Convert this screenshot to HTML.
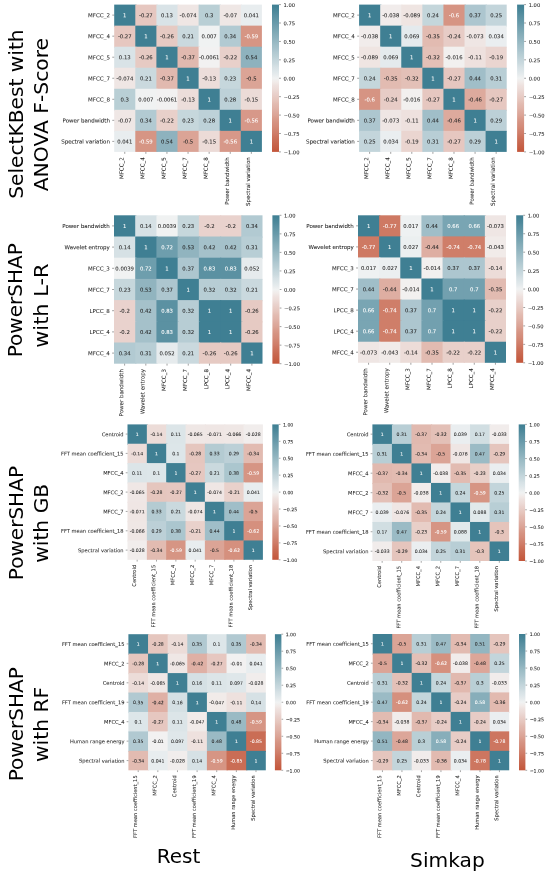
<!DOCTYPE html>
<html lang="en"><head><meta charset="utf-8"><title>Correlation heatmaps</title>
<style>
html,body{margin:0;padding:0;background:#fff;}
body{width:550px;height:881px;overflow:hidden;}
svg{display:block;font-family:"DejaVu Sans","Liberation Sans",sans-serif;}
svg text{white-space:pre;}
</style></head><body>
<svg width="550" height="881" viewBox="0 0 550 881">
<defs><linearGradient id="cb" x1="0" y1="0" x2="0" y2="1"><stop offset="0.0000" stop-color="#3f7f93"/><stop offset="0.0250" stop-color="#468497"/><stop offset="0.0500" stop-color="#4e899b"/><stop offset="0.0750" stop-color="#588fa1"/><stop offset="0.1000" stop-color="#6095a5"/><stop offset="0.1250" stop-color="#689aaa"/><stop offset="0.1500" stop-color="#72a0af"/><stop offset="0.1750" stop-color="#7aa6b3"/><stop offset="0.2000" stop-color="#84acb8"/><stop offset="0.2250" stop-color="#8cb1bd"/><stop offset="0.2500" stop-color="#96b8c2"/><stop offset="0.2750" stop-color="#9fbec7"/><stop offset="0.3000" stop-color="#a7c3cc"/><stop offset="0.3250" stop-color="#b1c9d1"/><stop offset="0.3500" stop-color="#b9cfd5"/><stop offset="0.3750" stop-color="#c3d5db"/><stop offset="0.4000" stop-color="#cbdadf"/><stop offset="0.4250" stop-color="#d6e1e5"/><stop offset="0.4500" stop-color="#dde6e9"/><stop offset="0.4750" stop-color="#e6ebed"/><stop offset="0.5000" stop-color="#f0f2f2"/><stop offset="0.5250" stop-color="#f1ebe9"/><stop offset="0.5500" stop-color="#eee1de"/><stop offset="0.5750" stop-color="#ecdbd7"/><stop offset="0.6000" stop-color="#e9d2cd"/><stop offset="0.6250" stop-color="#e7cbc4"/><stop offset="0.6500" stop-color="#e5c4bb"/><stop offset="0.6750" stop-color="#e2bab0"/><stop offset="0.7000" stop-color="#e0b4a9"/><stop offset="0.7250" stop-color="#ddab9f"/><stop offset="0.7500" stop-color="#dba496"/><stop offset="0.7750" stop-color="#d89a8a"/><stop offset="0.8000" stop-color="#d59281"/><stop offset="0.8250" stop-color="#d48c7a"/><stop offset="0.8500" stop-color="#d18470"/><stop offset="0.8750" stop-color="#cf7c68"/><stop offset="0.9000" stop-color="#cc735c"/><stop offset="0.9250" stop-color="#c96b53"/><stop offset="0.9500" stop-color="#c7644b"/><stop offset="0.9750" stop-color="#c55d42"/><stop offset="1.0000" stop-color="#c3553a"/></linearGradient></defs>
<rect x="0" y="0" width="550" height="881" fill="#ffffff"/>
<g class="p" font-size="5.500">
<g>
<rect x="114.20" y="4.60" width="22.30" height="22.24" fill="#3f7f93"/>
<rect x="135.30" y="4.60" width="22.30" height="22.24" fill="#e6c7c0"/>
<rect x="156.40" y="4.60" width="22.30" height="22.24" fill="#d9e3e7"/>
<rect x="177.50" y="4.60" width="22.30" height="22.24" fill="#efe6e4"/>
<rect x="198.60" y="4.60" width="22.30" height="22.24" fill="#b9cfd5"/>
<rect x="219.70" y="4.60" width="22.30" height="22.24" fill="#efe7e5"/>
<rect x="240.80" y="4.60" width="21.10" height="22.24" fill="#e8edef"/>
<rect x="114.20" y="25.64" width="22.30" height="22.24" fill="#e6c7c0"/>
<rect x="135.30" y="25.64" width="22.30" height="22.24" fill="#3f7f93"/>
<rect x="156.40" y="25.64" width="22.30" height="22.24" fill="#e6cac3"/>
<rect x="177.50" y="25.64" width="22.30" height="22.24" fill="#cad9de"/>
<rect x="198.60" y="25.64" width="22.30" height="22.24" fill="#f0f2f2"/>
<rect x="219.70" y="25.64" width="22.30" height="22.24" fill="#b2cad2"/>
<rect x="240.80" y="25.64" width="21.10" height="22.24" fill="#d69584"/>
<rect x="114.20" y="46.69" width="22.30" height="22.24" fill="#d9e3e7"/>
<rect x="135.30" y="46.69" width="22.30" height="22.24" fill="#e6cac3"/>
<rect x="156.40" y="46.69" width="22.30" height="22.24" fill="#3f7f93"/>
<rect x="177.50" y="46.69" width="22.30" height="22.24" fill="#e1b9af"/>
<rect x="198.60" y="46.69" width="22.30" height="22.24" fill="#f2f1f1"/>
<rect x="219.70" y="46.69" width="22.30" height="22.24" fill="#e8d0ca"/>
<rect x="240.80" y="46.69" width="21.10" height="22.24" fill="#8eb2be"/>
<rect x="114.20" y="67.73" width="22.30" height="22.24" fill="#efe6e4"/>
<rect x="135.30" y="67.73" width="22.30" height="22.24" fill="#cad9de"/>
<rect x="156.40" y="67.73" width="22.30" height="22.24" fill="#e1b9af"/>
<rect x="177.50" y="67.73" width="22.30" height="22.24" fill="#3f7f93"/>
<rect x="198.60" y="67.73" width="22.30" height="22.24" fill="#ecddda"/>
<rect x="219.70" y="67.73" width="22.30" height="22.24" fill="#c6d7dc"/>
<rect x="240.80" y="67.73" width="21.10" height="22.24" fill="#dba496"/>
<rect x="114.20" y="88.77" width="22.30" height="22.24" fill="#b9cfd5"/>
<rect x="135.30" y="88.77" width="22.30" height="22.24" fill="#f0f2f2"/>
<rect x="156.40" y="88.77" width="22.30" height="22.24" fill="#f2f1f1"/>
<rect x="177.50" y="88.77" width="22.30" height="22.24" fill="#ecddda"/>
<rect x="198.60" y="88.77" width="22.30" height="22.24" fill="#3f7f93"/>
<rect x="219.70" y="88.77" width="22.30" height="22.24" fill="#bdd1d8"/>
<rect x="240.80" y="88.77" width="21.10" height="22.24" fill="#ecdbd7"/>
<rect x="114.20" y="109.81" width="22.30" height="22.24" fill="#efe7e5"/>
<rect x="135.30" y="109.81" width="22.30" height="22.24" fill="#b2cad2"/>
<rect x="156.40" y="109.81" width="22.30" height="22.24" fill="#e8d0ca"/>
<rect x="177.50" y="109.81" width="22.30" height="22.24" fill="#c6d7dc"/>
<rect x="198.60" y="109.81" width="22.30" height="22.24" fill="#bdd1d8"/>
<rect x="219.70" y="109.81" width="22.30" height="22.24" fill="#3f7f93"/>
<rect x="240.80" y="109.81" width="21.10" height="22.24" fill="#d79889"/>
<rect x="114.20" y="130.86" width="22.30" height="21.04" fill="#e8edef"/>
<rect x="135.30" y="130.86" width="22.30" height="21.04" fill="#d69584"/>
<rect x="156.40" y="130.86" width="22.30" height="21.04" fill="#8eb2be"/>
<rect x="177.50" y="130.86" width="22.30" height="21.04" fill="#dba496"/>
<rect x="198.60" y="130.86" width="22.30" height="21.04" fill="#ecdbd7"/>
<rect x="219.70" y="130.86" width="22.30" height="21.04" fill="#d79889"/>
<rect x="240.80" y="130.86" width="21.10" height="21.04" fill="#3f7f93"/>
</g>
<g text-anchor="middle" font-size="5.300" stroke-width="0.06">
<text transform="translate(124.75 17.26) rotate(0.06)" fill="#ffffff" stroke="#ffffff">1</text>
<text transform="translate(145.85 17.26) rotate(0.06)" fill="#262626" stroke="#262626">-0.27</text>
<text transform="translate(166.95 17.26) rotate(0.06)" fill="#262626" stroke="#262626">0.13</text>
<text transform="translate(188.05 17.26) rotate(0.06)" fill="#262626" stroke="#262626">-0.074</text>
<text transform="translate(209.15 17.26) rotate(0.06)" fill="#262626" stroke="#262626">0.3</text>
<text transform="translate(230.25 17.26) rotate(0.06)" fill="#262626" stroke="#262626">-0.07</text>
<text transform="translate(251.35 17.26) rotate(0.06)" fill="#262626" stroke="#262626">0.041</text>
<text transform="translate(124.75 38.30) rotate(0.06)" fill="#262626" stroke="#262626">-0.27</text>
<text transform="translate(145.85 38.30) rotate(0.06)" fill="#ffffff" stroke="#ffffff">1</text>
<text transform="translate(166.95 38.30) rotate(0.06)" fill="#262626" stroke="#262626">-0.26</text>
<text transform="translate(188.05 38.30) rotate(0.06)" fill="#262626" stroke="#262626">0.21</text>
<text transform="translate(209.15 38.30) rotate(0.06)" fill="#262626" stroke="#262626">0.007</text>
<text transform="translate(230.25 38.30) rotate(0.06)" fill="#262626" stroke="#262626">0.34</text>
<text transform="translate(251.35 38.30) rotate(0.06)" fill="#ffffff" stroke="#ffffff">-0.59</text>
<text transform="translate(124.75 59.34) rotate(0.06)" fill="#262626" stroke="#262626">0.13</text>
<text transform="translate(145.85 59.34) rotate(0.06)" fill="#262626" stroke="#262626">-0.26</text>
<text transform="translate(166.95 59.34) rotate(0.06)" fill="#ffffff" stroke="#ffffff">1</text>
<text transform="translate(188.05 59.34) rotate(0.06)" fill="#262626" stroke="#262626">-0.37</text>
<text transform="translate(209.15 59.34) rotate(0.06)" fill="#262626" stroke="#262626">-0.0061</text>
<text transform="translate(230.25 59.34) rotate(0.06)" fill="#262626" stroke="#262626">-0.22</text>
<text transform="translate(251.35 59.34) rotate(0.06)" fill="#262626" stroke="#262626">0.54</text>
<text transform="translate(124.75 80.38) rotate(0.06)" fill="#262626" stroke="#262626">-0.074</text>
<text transform="translate(145.85 80.38) rotate(0.06)" fill="#262626" stroke="#262626">0.21</text>
<text transform="translate(166.95 80.38) rotate(0.06)" fill="#262626" stroke="#262626">-0.37</text>
<text transform="translate(188.05 80.38) rotate(0.06)" fill="#ffffff" stroke="#ffffff">1</text>
<text transform="translate(209.15 80.38) rotate(0.06)" fill="#262626" stroke="#262626">-0.13</text>
<text transform="translate(230.25 80.38) rotate(0.06)" fill="#262626" stroke="#262626">0.23</text>
<text transform="translate(251.35 80.38) rotate(0.06)" fill="#262626" stroke="#262626">-0.5</text>
<text transform="translate(124.75 101.43) rotate(0.06)" fill="#262626" stroke="#262626">0.3</text>
<text transform="translate(145.85 101.43) rotate(0.06)" fill="#262626" stroke="#262626">0.007</text>
<text transform="translate(166.95 101.43) rotate(0.06)" fill="#262626" stroke="#262626">-0.0061</text>
<text transform="translate(188.05 101.43) rotate(0.06)" fill="#262626" stroke="#262626">-0.13</text>
<text transform="translate(209.15 101.43) rotate(0.06)" fill="#ffffff" stroke="#ffffff">1</text>
<text transform="translate(230.25 101.43) rotate(0.06)" fill="#262626" stroke="#262626">0.28</text>
<text transform="translate(251.35 101.43) rotate(0.06)" fill="#262626" stroke="#262626">-0.15</text>
<text transform="translate(124.75 122.47) rotate(0.06)" fill="#262626" stroke="#262626">-0.07</text>
<text transform="translate(145.85 122.47) rotate(0.06)" fill="#262626" stroke="#262626">0.34</text>
<text transform="translate(166.95 122.47) rotate(0.06)" fill="#262626" stroke="#262626">-0.22</text>
<text transform="translate(188.05 122.47) rotate(0.06)" fill="#262626" stroke="#262626">0.23</text>
<text transform="translate(209.15 122.47) rotate(0.06)" fill="#262626" stroke="#262626">0.28</text>
<text transform="translate(230.25 122.47) rotate(0.06)" fill="#ffffff" stroke="#ffffff">1</text>
<text transform="translate(251.35 122.47) rotate(0.06)" fill="#ffffff" stroke="#ffffff">-0.56</text>
<text transform="translate(124.75 143.51) rotate(0.06)" fill="#262626" stroke="#262626">0.041</text>
<text transform="translate(145.85 143.51) rotate(0.06)" fill="#ffffff" stroke="#ffffff">-0.59</text>
<text transform="translate(166.95 143.51) rotate(0.06)" fill="#262626" stroke="#262626">0.54</text>
<text transform="translate(188.05 143.51) rotate(0.06)" fill="#262626" stroke="#262626">-0.5</text>
<text transform="translate(209.15 143.51) rotate(0.06)" fill="#262626" stroke="#262626">-0.15</text>
<text transform="translate(230.25 143.51) rotate(0.06)" fill="#ffffff" stroke="#ffffff">-0.56</text>
<text transform="translate(251.35 143.51) rotate(0.06)" fill="#ffffff" stroke="#ffffff">1</text>
</g>
<g stroke="#262626" stroke-width="0.440">
<line x1="112.28" y1="15.12" x2="114.20" y2="15.12"/>
<line x1="124.75" y1="151.90" x2="124.75" y2="153.83"/>
<line x1="112.28" y1="36.16" x2="114.20" y2="36.16"/>
<line x1="145.85" y1="151.90" x2="145.85" y2="153.83"/>
<line x1="112.28" y1="57.21" x2="114.20" y2="57.21"/>
<line x1="166.95" y1="151.90" x2="166.95" y2="153.83"/>
<line x1="112.28" y1="78.25" x2="114.20" y2="78.25"/>
<line x1="188.05" y1="151.90" x2="188.05" y2="153.83"/>
<line x1="112.28" y1="99.29" x2="114.20" y2="99.29"/>
<line x1="209.15" y1="151.90" x2="209.15" y2="153.83"/>
<line x1="112.28" y1="120.34" x2="114.20" y2="120.34"/>
<line x1="230.25" y1="151.90" x2="230.25" y2="153.83"/>
<line x1="112.28" y1="141.38" x2="114.20" y2="141.38"/>
<line x1="251.35" y1="151.90" x2="251.35" y2="153.83"/>
<line x1="279.00" y1="4.60" x2="280.93" y2="4.60"/>
<line x1="279.00" y1="23.01" x2="280.93" y2="23.01"/>
<line x1="279.00" y1="41.43" x2="280.93" y2="41.43"/>
<line x1="279.00" y1="59.84" x2="280.93" y2="59.84"/>
<line x1="279.00" y1="78.25" x2="280.93" y2="78.25"/>
<line x1="279.00" y1="96.66" x2="280.93" y2="96.66"/>
<line x1="279.00" y1="115.08" x2="280.93" y2="115.08"/>
<line x1="279.00" y1="133.49" x2="280.93" y2="133.49"/>
<line x1="279.00" y1="151.90" x2="280.93" y2="151.90"/>
</g>
<g fill="#262626" stroke="#262626" stroke-width="0.06" text-anchor="end">
<text transform="translate(109.95 17.33) rotate(0.06)">MFCC_2</text>
<text transform="translate(109.95 38.37) rotate(0.06)">MFCC_4</text>
<text transform="translate(109.95 59.41) rotate(0.06)">MFCC_5</text>
<text transform="translate(109.95 80.46) rotate(0.06)">MFCC_7</text>
<text transform="translate(109.95 101.50) rotate(0.06)">MFCC_8</text>
<text transform="translate(109.95 122.54) rotate(0.06)">Power bandwidth</text>
<text transform="translate(109.95 143.59) rotate(0.06)">Spectral variation</text>
</g>
<g fill="#262626" stroke="#262626" stroke-width="0.06" text-anchor="end">
<text transform="translate(123.45 157.25) rotate(-89.94)">MFCC_2</text>
<text transform="translate(144.55 157.25) rotate(-89.94)">MFCC_4</text>
<text transform="translate(165.65 157.25) rotate(-89.94)">MFCC_5</text>
<text transform="translate(186.75 157.25) rotate(-89.94)">MFCC_7</text>
<text transform="translate(207.85 157.25) rotate(-89.94)">MFCC_8</text>
<text transform="translate(228.95 157.25) rotate(-89.94)">Power bandwidth</text>
<text transform="translate(250.05 157.25) rotate(-89.94)">Spectral variation</text>
</g>
<rect x="272.00" y="4.60" width="7.00" height="147.30" fill="url(#cb)"/>
<g fill="#262626" stroke="#262626" stroke-width="0.06" font-size="5.200">
<text transform="translate(283.55 6.90) rotate(0.06)">1.00</text>
<text transform="translate(283.55 25.31) rotate(0.06)">0.75</text>
<text transform="translate(283.55 43.72) rotate(0.06)">0.50</text>
<text transform="translate(283.55 62.14) rotate(0.06)">0.25</text>
<text transform="translate(283.55 80.55) rotate(0.06)">0.00</text>
<text transform="translate(283.55 98.96) rotate(0.06)">−0.25</text>
<text transform="translate(283.55 117.37) rotate(0.06)">−0.50</text>
<text transform="translate(283.55 135.79) rotate(0.06)">−0.75</text>
<text transform="translate(283.55 154.20) rotate(0.06)">−1.00</text>
</g>
</g>
<g class="p" font-size="5.500">
<g>
<rect x="359.10" y="4.60" width="22.29" height="22.24" fill="#3f7f93"/>
<rect x="380.19" y="4.60" width="22.29" height="22.24" fill="#f1eceb"/>
<rect x="401.27" y="4.60" width="22.29" height="22.24" fill="#efe5e2"/>
<rect x="422.36" y="4.60" width="22.29" height="22.24" fill="#c4d6db"/>
<rect x="443.44" y="4.60" width="22.29" height="22.24" fill="#d69483"/>
<rect x="464.53" y="4.60" width="22.29" height="22.24" fill="#adc6cf"/>
<rect x="485.61" y="4.60" width="21.09" height="22.24" fill="#c3d5db"/>
<rect x="359.10" y="25.64" width="22.29" height="22.24" fill="#f1eceb"/>
<rect x="380.19" y="25.64" width="22.29" height="22.24" fill="#3f7f93"/>
<rect x="401.27" y="25.64" width="22.29" height="22.24" fill="#e4eaed"/>
<rect x="422.36" y="25.64" width="22.29" height="22.24" fill="#e2bbb1"/>
<rect x="443.44" y="25.64" width="22.29" height="22.24" fill="#e7ccc6"/>
<rect x="464.53" y="25.64" width="22.29" height="22.24" fill="#efe6e4"/>
<rect x="485.61" y="25.64" width="21.09" height="22.24" fill="#eaeef0"/>
<rect x="359.10" y="46.69" width="22.29" height="22.24" fill="#efe5e2"/>
<rect x="380.19" y="46.69" width="22.29" height="22.24" fill="#e4eaed"/>
<rect x="401.27" y="46.69" width="22.29" height="22.24" fill="#3f7f93"/>
<rect x="422.36" y="46.69" width="22.29" height="22.24" fill="#e3c0b7"/>
<rect x="443.44" y="46.69" width="22.29" height="22.24" fill="#f2f0ef"/>
<rect x="464.53" y="46.69" width="22.29" height="22.24" fill="#eee1de"/>
<rect x="485.61" y="46.69" width="21.09" height="22.24" fill="#ead5d0"/>
<rect x="359.10" y="67.73" width="22.29" height="22.24" fill="#c4d6db"/>
<rect x="380.19" y="67.73" width="22.29" height="22.24" fill="#e2bbb1"/>
<rect x="401.27" y="67.73" width="22.29" height="22.24" fill="#e3c0b7"/>
<rect x="422.36" y="67.73" width="22.29" height="22.24" fill="#3f7f93"/>
<rect x="443.44" y="67.73" width="22.29" height="22.24" fill="#e6c7c0"/>
<rect x="464.53" y="67.73" width="22.29" height="22.24" fill="#a0bec8"/>
<rect x="485.61" y="67.73" width="21.09" height="22.24" fill="#b8ced5"/>
<rect x="359.10" y="88.77" width="22.29" height="22.24" fill="#d69483"/>
<rect x="380.19" y="88.77" width="22.29" height="22.24" fill="#e7ccc6"/>
<rect x="401.27" y="88.77" width="22.29" height="22.24" fill="#f2f0ef"/>
<rect x="422.36" y="88.77" width="22.29" height="22.24" fill="#e6c7c0"/>
<rect x="443.44" y="88.77" width="22.29" height="22.24" fill="#3f7f93"/>
<rect x="464.53" y="88.77" width="22.29" height="22.24" fill="#ddaa9d"/>
<rect x="485.61" y="88.77" width="21.09" height="22.24" fill="#e6c7c0"/>
<rect x="359.10" y="109.81" width="22.29" height="22.24" fill="#adc6cf"/>
<rect x="380.19" y="109.81" width="22.29" height="22.24" fill="#efe6e4"/>
<rect x="401.27" y="109.81" width="22.29" height="22.24" fill="#eee1de"/>
<rect x="422.36" y="109.81" width="22.29" height="22.24" fill="#a0bec8"/>
<rect x="443.44" y="109.81" width="22.29" height="22.24" fill="#ddaa9d"/>
<rect x="464.53" y="109.81" width="22.29" height="22.24" fill="#3f7f93"/>
<rect x="485.61" y="109.81" width="21.09" height="22.24" fill="#bcd0d7"/>
<rect x="359.10" y="130.86" width="22.29" height="21.04" fill="#c3d5db"/>
<rect x="380.19" y="130.86" width="22.29" height="21.04" fill="#eaeef0"/>
<rect x="401.27" y="130.86" width="22.29" height="21.04" fill="#ead5d0"/>
<rect x="422.36" y="130.86" width="22.29" height="21.04" fill="#b8ced5"/>
<rect x="443.44" y="130.86" width="22.29" height="21.04" fill="#e6c7c0"/>
<rect x="464.53" y="130.86" width="22.29" height="21.04" fill="#bcd0d7"/>
<rect x="485.61" y="130.86" width="21.09" height="21.04" fill="#3f7f93"/>
</g>
<g text-anchor="middle" font-size="5.300" stroke-width="0.06">
<text transform="translate(369.64 17.26) rotate(0.06)" fill="#ffffff" stroke="#ffffff">1</text>
<text transform="translate(390.73 17.26) rotate(0.06)" fill="#262626" stroke="#262626">-0.038</text>
<text transform="translate(411.81 17.26) rotate(0.06)" fill="#262626" stroke="#262626">-0.089</text>
<text transform="translate(432.90 17.26) rotate(0.06)" fill="#262626" stroke="#262626">0.24</text>
<text transform="translate(453.99 17.26) rotate(0.06)" fill="#ffffff" stroke="#ffffff">-0.6</text>
<text transform="translate(475.07 17.26) rotate(0.06)" fill="#262626" stroke="#262626">0.37</text>
<text transform="translate(496.16 17.26) rotate(0.06)" fill="#262626" stroke="#262626">0.25</text>
<text transform="translate(369.64 38.30) rotate(0.06)" fill="#262626" stroke="#262626">-0.038</text>
<text transform="translate(390.73 38.30) rotate(0.06)" fill="#ffffff" stroke="#ffffff">1</text>
<text transform="translate(411.81 38.30) rotate(0.06)" fill="#262626" stroke="#262626">0.069</text>
<text transform="translate(432.90 38.30) rotate(0.06)" fill="#262626" stroke="#262626">-0.35</text>
<text transform="translate(453.99 38.30) rotate(0.06)" fill="#262626" stroke="#262626">-0.24</text>
<text transform="translate(475.07 38.30) rotate(0.06)" fill="#262626" stroke="#262626">-0.073</text>
<text transform="translate(496.16 38.30) rotate(0.06)" fill="#262626" stroke="#262626">0.034</text>
<text transform="translate(369.64 59.34) rotate(0.06)" fill="#262626" stroke="#262626">-0.089</text>
<text transform="translate(390.73 59.34) rotate(0.06)" fill="#262626" stroke="#262626">0.069</text>
<text transform="translate(411.81 59.34) rotate(0.06)" fill="#ffffff" stroke="#ffffff">1</text>
<text transform="translate(432.90 59.34) rotate(0.06)" fill="#262626" stroke="#262626">-0.32</text>
<text transform="translate(453.99 59.34) rotate(0.06)" fill="#262626" stroke="#262626">-0.016</text>
<text transform="translate(475.07 59.34) rotate(0.06)" fill="#262626" stroke="#262626">-0.11</text>
<text transform="translate(496.16 59.34) rotate(0.06)" fill="#262626" stroke="#262626">-0.19</text>
<text transform="translate(369.64 80.38) rotate(0.06)" fill="#262626" stroke="#262626">0.24</text>
<text transform="translate(390.73 80.38) rotate(0.06)" fill="#262626" stroke="#262626">-0.35</text>
<text transform="translate(411.81 80.38) rotate(0.06)" fill="#262626" stroke="#262626">-0.32</text>
<text transform="translate(432.90 80.38) rotate(0.06)" fill="#ffffff" stroke="#ffffff">1</text>
<text transform="translate(453.99 80.38) rotate(0.06)" fill="#262626" stroke="#262626">-0.27</text>
<text transform="translate(475.07 80.38) rotate(0.06)" fill="#262626" stroke="#262626">0.44</text>
<text transform="translate(496.16 80.38) rotate(0.06)" fill="#262626" stroke="#262626">0.31</text>
<text transform="translate(369.64 101.43) rotate(0.06)" fill="#ffffff" stroke="#ffffff">-0.6</text>
<text transform="translate(390.73 101.43) rotate(0.06)" fill="#262626" stroke="#262626">-0.24</text>
<text transform="translate(411.81 101.43) rotate(0.06)" fill="#262626" stroke="#262626">-0.016</text>
<text transform="translate(432.90 101.43) rotate(0.06)" fill="#262626" stroke="#262626">-0.27</text>
<text transform="translate(453.99 101.43) rotate(0.06)" fill="#ffffff" stroke="#ffffff">1</text>
<text transform="translate(475.07 101.43) rotate(0.06)" fill="#262626" stroke="#262626">-0.46</text>
<text transform="translate(496.16 101.43) rotate(0.06)" fill="#262626" stroke="#262626">-0.27</text>
<text transform="translate(369.64 122.47) rotate(0.06)" fill="#262626" stroke="#262626">0.37</text>
<text transform="translate(390.73 122.47) rotate(0.06)" fill="#262626" stroke="#262626">-0.073</text>
<text transform="translate(411.81 122.47) rotate(0.06)" fill="#262626" stroke="#262626">-0.11</text>
<text transform="translate(432.90 122.47) rotate(0.06)" fill="#262626" stroke="#262626">0.44</text>
<text transform="translate(453.99 122.47) rotate(0.06)" fill="#262626" stroke="#262626">-0.46</text>
<text transform="translate(475.07 122.47) rotate(0.06)" fill="#ffffff" stroke="#ffffff">1</text>
<text transform="translate(496.16 122.47) rotate(0.06)" fill="#262626" stroke="#262626">0.29</text>
<text transform="translate(369.64 143.51) rotate(0.06)" fill="#262626" stroke="#262626">0.25</text>
<text transform="translate(390.73 143.51) rotate(0.06)" fill="#262626" stroke="#262626">0.034</text>
<text transform="translate(411.81 143.51) rotate(0.06)" fill="#262626" stroke="#262626">-0.19</text>
<text transform="translate(432.90 143.51) rotate(0.06)" fill="#262626" stroke="#262626">0.31</text>
<text transform="translate(453.99 143.51) rotate(0.06)" fill="#262626" stroke="#262626">-0.27</text>
<text transform="translate(475.07 143.51) rotate(0.06)" fill="#262626" stroke="#262626">0.29</text>
<text transform="translate(496.16 143.51) rotate(0.06)" fill="#ffffff" stroke="#ffffff">1</text>
</g>
<g stroke="#262626" stroke-width="0.440">
<line x1="357.18" y1="15.12" x2="359.10" y2="15.12"/>
<line x1="369.64" y1="151.90" x2="369.64" y2="153.83"/>
<line x1="357.18" y1="36.16" x2="359.10" y2="36.16"/>
<line x1="390.73" y1="151.90" x2="390.73" y2="153.83"/>
<line x1="357.18" y1="57.21" x2="359.10" y2="57.21"/>
<line x1="411.81" y1="151.90" x2="411.81" y2="153.83"/>
<line x1="357.18" y1="78.25" x2="359.10" y2="78.25"/>
<line x1="432.90" y1="151.90" x2="432.90" y2="153.83"/>
<line x1="357.18" y1="99.29" x2="359.10" y2="99.29"/>
<line x1="453.99" y1="151.90" x2="453.99" y2="153.83"/>
<line x1="357.18" y1="120.34" x2="359.10" y2="120.34"/>
<line x1="475.07" y1="151.90" x2="475.07" y2="153.83"/>
<line x1="357.18" y1="141.38" x2="359.10" y2="141.38"/>
<line x1="496.16" y1="151.90" x2="496.16" y2="153.83"/>
<line x1="524.10" y1="4.60" x2="526.02" y2="4.60"/>
<line x1="524.10" y1="23.01" x2="526.02" y2="23.01"/>
<line x1="524.10" y1="41.43" x2="526.02" y2="41.43"/>
<line x1="524.10" y1="59.84" x2="526.02" y2="59.84"/>
<line x1="524.10" y1="78.25" x2="526.02" y2="78.25"/>
<line x1="524.10" y1="96.66" x2="526.02" y2="96.66"/>
<line x1="524.10" y1="115.08" x2="526.02" y2="115.08"/>
<line x1="524.10" y1="133.49" x2="526.02" y2="133.49"/>
<line x1="524.10" y1="151.90" x2="526.02" y2="151.90"/>
</g>
<g fill="#262626" stroke="#262626" stroke-width="0.06" text-anchor="end">
<text transform="translate(354.85 17.33) rotate(0.06)">MFCC_2</text>
<text transform="translate(354.85 38.37) rotate(0.06)">MFCC_4</text>
<text transform="translate(354.85 59.41) rotate(0.06)">MFCC_5</text>
<text transform="translate(354.85 80.46) rotate(0.06)">MFCC_7</text>
<text transform="translate(354.85 101.50) rotate(0.06)">MFCC_8</text>
<text transform="translate(354.85 122.54) rotate(0.06)">Power bandwidth</text>
<text transform="translate(354.85 143.59) rotate(0.06)">Spectral variation</text>
</g>
<g fill="#262626" stroke="#262626" stroke-width="0.06" text-anchor="end">
<text transform="translate(368.34 157.25) rotate(-89.94)">MFCC_2</text>
<text transform="translate(389.43 157.25) rotate(-89.94)">MFCC_4</text>
<text transform="translate(410.52 157.25) rotate(-89.94)">MFCC_5</text>
<text transform="translate(431.60 157.25) rotate(-89.94)">MFCC_7</text>
<text transform="translate(452.69 157.25) rotate(-89.94)">MFCC_8</text>
<text transform="translate(473.77 157.25) rotate(-89.94)">Power bandwidth</text>
<text transform="translate(494.86 157.25) rotate(-89.94)">Spectral variation</text>
</g>
<rect x="517.10" y="4.60" width="7.00" height="147.30" fill="url(#cb)"/>
<g fill="#262626" stroke="#262626" stroke-width="0.06" font-size="5.200">
<text transform="translate(528.65 6.90) rotate(0.06)">1.00</text>
<text transform="translate(528.65 25.31) rotate(0.06)">0.75</text>
<text transform="translate(528.65 43.72) rotate(0.06)">0.50</text>
<text transform="translate(528.65 62.14) rotate(0.06)">0.25</text>
<text transform="translate(528.65 80.55) rotate(0.06)">0.00</text>
<text transform="translate(528.65 98.96) rotate(0.06)">−0.25</text>
<text transform="translate(528.65 117.37) rotate(0.06)">−0.50</text>
<text transform="translate(528.65 135.79) rotate(0.06)">−0.75</text>
<text transform="translate(528.65 154.20) rotate(0.06)">−1.00</text>
</g>
</g>
<g class="p" font-size="5.500">
<g>
<rect x="114.00" y="215.30" width="22.41" height="22.40" fill="#3f7f93"/>
<rect x="135.21" y="215.30" width="22.41" height="22.40" fill="#d6e1e5"/>
<rect x="156.43" y="215.30" width="22.41" height="22.40" fill="#f0f2f2"/>
<rect x="177.64" y="215.30" width="22.41" height="22.40" fill="#c6d7dc"/>
<rect x="198.86" y="215.30" width="22.41" height="22.40" fill="#e9d2cd"/>
<rect x="220.07" y="215.30" width="22.41" height="22.40" fill="#e9d2cd"/>
<rect x="241.29" y="215.30" width="21.21" height="22.40" fill="#b2cad2"/>
<rect x="114.00" y="236.50" width="22.41" height="22.40" fill="#d6e1e5"/>
<rect x="135.21" y="236.50" width="22.41" height="22.40" fill="#3f7f93"/>
<rect x="156.43" y="236.50" width="22.41" height="22.40" fill="#6e9ead"/>
<rect x="177.64" y="236.50" width="22.41" height="22.40" fill="#91b4bf"/>
<rect x="198.86" y="236.50" width="22.41" height="22.40" fill="#a5c1ca"/>
<rect x="220.07" y="236.50" width="22.41" height="22.40" fill="#a5c1ca"/>
<rect x="241.29" y="236.50" width="21.21" height="22.40" fill="#b8ced5"/>
<rect x="114.00" y="257.70" width="22.41" height="22.40" fill="#f0f2f2"/>
<rect x="135.21" y="257.70" width="22.41" height="22.40" fill="#6e9ead"/>
<rect x="156.43" y="257.70" width="22.41" height="22.40" fill="#3f7f93"/>
<rect x="177.64" y="257.70" width="22.41" height="22.40" fill="#adc6cf"/>
<rect x="198.86" y="257.70" width="22.41" height="22.40" fill="#5b91a2"/>
<rect x="220.07" y="257.70" width="22.41" height="22.40" fill="#5b91a2"/>
<rect x="241.29" y="257.70" width="21.21" height="22.40" fill="#e6ebed"/>
<rect x="114.00" y="278.90" width="22.41" height="22.40" fill="#c6d7dc"/>
<rect x="135.21" y="278.90" width="22.41" height="22.40" fill="#91b4bf"/>
<rect x="156.43" y="278.90" width="22.41" height="22.40" fill="#adc6cf"/>
<rect x="177.64" y="278.90" width="22.41" height="22.40" fill="#3f7f93"/>
<rect x="198.86" y="278.90" width="22.41" height="22.40" fill="#b7cdd4"/>
<rect x="220.07" y="278.90" width="22.41" height="22.40" fill="#b7cdd4"/>
<rect x="241.29" y="278.90" width="21.21" height="22.40" fill="#cad9de"/>
<rect x="114.00" y="300.10" width="22.41" height="22.40" fill="#e9d2cd"/>
<rect x="135.21" y="300.10" width="22.41" height="22.40" fill="#a5c1ca"/>
<rect x="156.43" y="300.10" width="22.41" height="22.40" fill="#5b91a2"/>
<rect x="177.64" y="300.10" width="22.41" height="22.40" fill="#b7cdd4"/>
<rect x="198.86" y="300.10" width="22.41" height="22.40" fill="#3f7f93"/>
<rect x="220.07" y="300.10" width="22.41" height="22.40" fill="#3f7f93"/>
<rect x="241.29" y="300.10" width="21.21" height="22.40" fill="#e6cac3"/>
<rect x="114.00" y="321.30" width="22.41" height="22.40" fill="#e9d2cd"/>
<rect x="135.21" y="321.30" width="22.41" height="22.40" fill="#a5c1ca"/>
<rect x="156.43" y="321.30" width="22.41" height="22.40" fill="#5b91a2"/>
<rect x="177.64" y="321.30" width="22.41" height="22.40" fill="#b7cdd4"/>
<rect x="198.86" y="321.30" width="22.41" height="22.40" fill="#3f7f93"/>
<rect x="220.07" y="321.30" width="22.41" height="22.40" fill="#3f7f93"/>
<rect x="241.29" y="321.30" width="21.21" height="22.40" fill="#e6cac3"/>
<rect x="114.00" y="342.50" width="22.41" height="21.20" fill="#b2cad2"/>
<rect x="135.21" y="342.50" width="22.41" height="21.20" fill="#b8ced5"/>
<rect x="156.43" y="342.50" width="22.41" height="21.20" fill="#e6ebed"/>
<rect x="177.64" y="342.50" width="22.41" height="21.20" fill="#cad9de"/>
<rect x="198.86" y="342.50" width="22.41" height="21.20" fill="#e6cac3"/>
<rect x="220.07" y="342.50" width="22.41" height="21.20" fill="#e6cac3"/>
<rect x="241.29" y="342.50" width="21.21" height="21.20" fill="#3f7f93"/>
</g>
<g text-anchor="middle" font-size="5.300" stroke-width="0.06">
<text transform="translate(124.61 228.03) rotate(0.06)" fill="#ffffff" stroke="#ffffff">1</text>
<text transform="translate(145.82 228.03) rotate(0.06)" fill="#262626" stroke="#262626">0.14</text>
<text transform="translate(167.04 228.03) rotate(0.06)" fill="#262626" stroke="#262626">0.0039</text>
<text transform="translate(188.25 228.03) rotate(0.06)" fill="#262626" stroke="#262626">0.23</text>
<text transform="translate(209.46 228.03) rotate(0.06)" fill="#262626" stroke="#262626">-0.2</text>
<text transform="translate(230.68 228.03) rotate(0.06)" fill="#262626" stroke="#262626">-0.2</text>
<text transform="translate(251.89 228.03) rotate(0.06)" fill="#262626" stroke="#262626">0.34</text>
<text transform="translate(124.61 249.23) rotate(0.06)" fill="#262626" stroke="#262626">0.14</text>
<text transform="translate(145.82 249.23) rotate(0.06)" fill="#ffffff" stroke="#ffffff">1</text>
<text transform="translate(167.04 249.23) rotate(0.06)" fill="#ffffff" stroke="#ffffff">0.72</text>
<text transform="translate(188.25 249.23) rotate(0.06)" fill="#262626" stroke="#262626">0.53</text>
<text transform="translate(209.46 249.23) rotate(0.06)" fill="#262626" stroke="#262626">0.42</text>
<text transform="translate(230.68 249.23) rotate(0.06)" fill="#262626" stroke="#262626">0.42</text>
<text transform="translate(251.89 249.23) rotate(0.06)" fill="#262626" stroke="#262626">0.31</text>
<text transform="translate(124.61 270.43) rotate(0.06)" fill="#262626" stroke="#262626">0.0039</text>
<text transform="translate(145.82 270.43) rotate(0.06)" fill="#ffffff" stroke="#ffffff">0.72</text>
<text transform="translate(167.04 270.43) rotate(0.06)" fill="#ffffff" stroke="#ffffff">1</text>
<text transform="translate(188.25 270.43) rotate(0.06)" fill="#262626" stroke="#262626">0.37</text>
<text transform="translate(209.46 270.43) rotate(0.06)" fill="#ffffff" stroke="#ffffff">0.83</text>
<text transform="translate(230.68 270.43) rotate(0.06)" fill="#ffffff" stroke="#ffffff">0.83</text>
<text transform="translate(251.89 270.43) rotate(0.06)" fill="#262626" stroke="#262626">0.052</text>
<text transform="translate(124.61 291.63) rotate(0.06)" fill="#262626" stroke="#262626">0.23</text>
<text transform="translate(145.82 291.63) rotate(0.06)" fill="#262626" stroke="#262626">0.53</text>
<text transform="translate(167.04 291.63) rotate(0.06)" fill="#262626" stroke="#262626">0.37</text>
<text transform="translate(188.25 291.63) rotate(0.06)" fill="#ffffff" stroke="#ffffff">1</text>
<text transform="translate(209.46 291.63) rotate(0.06)" fill="#262626" stroke="#262626">0.32</text>
<text transform="translate(230.68 291.63) rotate(0.06)" fill="#262626" stroke="#262626">0.32</text>
<text transform="translate(251.89 291.63) rotate(0.06)" fill="#262626" stroke="#262626">0.21</text>
<text transform="translate(124.61 312.83) rotate(0.06)" fill="#262626" stroke="#262626">-0.2</text>
<text transform="translate(145.82 312.83) rotate(0.06)" fill="#262626" stroke="#262626">0.42</text>
<text transform="translate(167.04 312.83) rotate(0.06)" fill="#ffffff" stroke="#ffffff">0.83</text>
<text transform="translate(188.25 312.83) rotate(0.06)" fill="#262626" stroke="#262626">0.32</text>
<text transform="translate(209.46 312.83) rotate(0.06)" fill="#ffffff" stroke="#ffffff">1</text>
<text transform="translate(230.68 312.83) rotate(0.06)" fill="#ffffff" stroke="#ffffff">1</text>
<text transform="translate(251.89 312.83) rotate(0.06)" fill="#262626" stroke="#262626">-0.26</text>
<text transform="translate(124.61 334.03) rotate(0.06)" fill="#262626" stroke="#262626">-0.2</text>
<text transform="translate(145.82 334.03) rotate(0.06)" fill="#262626" stroke="#262626">0.42</text>
<text transform="translate(167.04 334.03) rotate(0.06)" fill="#ffffff" stroke="#ffffff">0.83</text>
<text transform="translate(188.25 334.03) rotate(0.06)" fill="#262626" stroke="#262626">0.32</text>
<text transform="translate(209.46 334.03) rotate(0.06)" fill="#ffffff" stroke="#ffffff">1</text>
<text transform="translate(230.68 334.03) rotate(0.06)" fill="#ffffff" stroke="#ffffff">1</text>
<text transform="translate(251.89 334.03) rotate(0.06)" fill="#262626" stroke="#262626">-0.26</text>
<text transform="translate(124.61 355.23) rotate(0.06)" fill="#262626" stroke="#262626">0.34</text>
<text transform="translate(145.82 355.23) rotate(0.06)" fill="#262626" stroke="#262626">0.31</text>
<text transform="translate(167.04 355.23) rotate(0.06)" fill="#262626" stroke="#262626">0.052</text>
<text transform="translate(188.25 355.23) rotate(0.06)" fill="#262626" stroke="#262626">0.21</text>
<text transform="translate(209.46 355.23) rotate(0.06)" fill="#262626" stroke="#262626">-0.26</text>
<text transform="translate(230.68 355.23) rotate(0.06)" fill="#262626" stroke="#262626">-0.26</text>
<text transform="translate(251.89 355.23) rotate(0.06)" fill="#ffffff" stroke="#ffffff">1</text>
</g>
<g stroke="#262626" stroke-width="0.440">
<line x1="112.08" y1="225.90" x2="114.00" y2="225.90"/>
<line x1="124.61" y1="363.70" x2="124.61" y2="365.62"/>
<line x1="112.08" y1="247.10" x2="114.00" y2="247.10"/>
<line x1="145.82" y1="363.70" x2="145.82" y2="365.62"/>
<line x1="112.08" y1="268.30" x2="114.00" y2="268.30"/>
<line x1="167.04" y1="363.70" x2="167.04" y2="365.62"/>
<line x1="112.08" y1="289.50" x2="114.00" y2="289.50"/>
<line x1="188.25" y1="363.70" x2="188.25" y2="365.62"/>
<line x1="112.08" y1="310.70" x2="114.00" y2="310.70"/>
<line x1="209.46" y1="363.70" x2="209.46" y2="365.62"/>
<line x1="112.08" y1="331.90" x2="114.00" y2="331.90"/>
<line x1="230.68" y1="363.70" x2="230.68" y2="365.62"/>
<line x1="112.08" y1="353.10" x2="114.00" y2="353.10"/>
<line x1="251.89" y1="363.70" x2="251.89" y2="365.62"/>
<line x1="279.50" y1="215.30" x2="281.43" y2="215.30"/>
<line x1="279.50" y1="233.85" x2="281.43" y2="233.85"/>
<line x1="279.50" y1="252.40" x2="281.43" y2="252.40"/>
<line x1="279.50" y1="270.95" x2="281.43" y2="270.95"/>
<line x1="279.50" y1="289.50" x2="281.43" y2="289.50"/>
<line x1="279.50" y1="308.05" x2="281.43" y2="308.05"/>
<line x1="279.50" y1="326.60" x2="281.43" y2="326.60"/>
<line x1="279.50" y1="345.15" x2="281.43" y2="345.15"/>
<line x1="279.50" y1="363.70" x2="281.43" y2="363.70"/>
</g>
<g fill="#262626" stroke="#262626" stroke-width="0.06" text-anchor="end">
<text transform="translate(109.75 228.11) rotate(0.06)">Power bandwidth</text>
<text transform="translate(109.75 249.31) rotate(0.06)">Wavelet entropy</text>
<text transform="translate(109.75 270.51) rotate(0.06)">MFCC_3</text>
<text transform="translate(109.75 291.71) rotate(0.06)">MFCC_7</text>
<text transform="translate(109.75 312.91) rotate(0.06)">LPCC_8</text>
<text transform="translate(109.75 334.11) rotate(0.06)">LPCC_4</text>
<text transform="translate(109.75 355.31) rotate(0.06)">MFCC_4</text>
</g>
<g fill="#262626" stroke="#262626" stroke-width="0.06" text-anchor="end">
<text transform="translate(123.31 369.05) rotate(-89.94)">Power bandwidth</text>
<text transform="translate(144.52 369.05) rotate(-89.94)">Wavelet entropy</text>
<text transform="translate(165.74 369.05) rotate(-89.94)">MFCC_3</text>
<text transform="translate(186.95 369.05) rotate(-89.94)">MFCC_7</text>
<text transform="translate(208.17 369.05) rotate(-89.94)">LPCC_8</text>
<text transform="translate(229.38 369.05) rotate(-89.94)">LPCC_4</text>
<text transform="translate(250.59 369.05) rotate(-89.94)">MFCC_4</text>
</g>
<rect x="272.40" y="215.30" width="7.10" height="148.40" fill="url(#cb)"/>
<g fill="#262626" stroke="#262626" stroke-width="0.06" font-size="5.200">
<text transform="translate(284.05 217.60) rotate(0.06)">1.00</text>
<text transform="translate(284.05 236.15) rotate(0.06)">0.75</text>
<text transform="translate(284.05 254.70) rotate(0.06)">0.50</text>
<text transform="translate(284.05 273.25) rotate(0.06)">0.25</text>
<text transform="translate(284.05 291.80) rotate(0.06)">0.00</text>
<text transform="translate(284.05 310.35) rotate(0.06)">−0.25</text>
<text transform="translate(284.05 328.90) rotate(0.06)">−0.50</text>
<text transform="translate(284.05 347.45) rotate(0.06)">−0.75</text>
<text transform="translate(284.05 366.00) rotate(0.06)">−1.00</text>
</g>
</g>
<g class="p" font-size="5.500">
<g>
<rect x="358.00" y="215.30" width="22.34" height="22.27" fill="#3f7f93"/>
<rect x="379.14" y="215.30" width="22.34" height="22.27" fill="#ce7963"/>
<rect x="400.29" y="215.30" width="22.34" height="22.27" fill="#eef1f2"/>
<rect x="421.43" y="215.30" width="22.34" height="22.27" fill="#a0bec8"/>
<rect x="442.57" y="215.30" width="22.34" height="22.27" fill="#79a5b3"/>
<rect x="463.71" y="215.30" width="22.34" height="22.27" fill="#79a5b3"/>
<rect x="484.86" y="215.30" width="21.14" height="22.27" fill="#efe6e4"/>
<rect x="358.00" y="236.37" width="22.34" height="22.27" fill="#ce7963"/>
<rect x="379.14" y="236.37" width="22.34" height="22.27" fill="#3f7f93"/>
<rect x="400.29" y="236.37" width="22.34" height="22.27" fill="#ebeff0"/>
<rect x="421.43" y="236.37" width="22.34" height="22.27" fill="#deaea2"/>
<rect x="442.57" y="236.37" width="22.34" height="22.27" fill="#cf7e69"/>
<rect x="463.71" y="236.37" width="22.34" height="22.27" fill="#cf7e69"/>
<rect x="484.86" y="236.37" width="21.14" height="22.27" fill="#f1ebe9"/>
<rect x="358.00" y="257.44" width="22.34" height="22.27" fill="#eef1f2"/>
<rect x="379.14" y="257.44" width="22.34" height="22.27" fill="#ebeff0"/>
<rect x="400.29" y="257.44" width="22.34" height="22.27" fill="#3f7f93"/>
<rect x="421.43" y="257.44" width="22.34" height="22.27" fill="#f2f0ef"/>
<rect x="442.57" y="257.44" width="22.34" height="22.27" fill="#adc6cf"/>
<rect x="463.71" y="257.44" width="22.34" height="22.27" fill="#adc6cf"/>
<rect x="484.86" y="257.44" width="21.14" height="22.27" fill="#ecdcd8"/>
<rect x="358.00" y="278.51" width="22.34" height="22.27" fill="#a0bec8"/>
<rect x="379.14" y="278.51" width="22.34" height="22.27" fill="#deaea2"/>
<rect x="400.29" y="278.51" width="22.34" height="22.27" fill="#f2f0ef"/>
<rect x="421.43" y="278.51" width="22.34" height="22.27" fill="#3f7f93"/>
<rect x="442.57" y="278.51" width="22.34" height="22.27" fill="#72a0af"/>
<rect x="463.71" y="278.51" width="22.34" height="22.27" fill="#72a0af"/>
<rect x="484.86" y="278.51" width="21.14" height="22.27" fill="#e2bbb1"/>
<rect x="358.00" y="299.59" width="22.34" height="22.27" fill="#79a5b3"/>
<rect x="379.14" y="299.59" width="22.34" height="22.27" fill="#cf7e69"/>
<rect x="400.29" y="299.59" width="22.34" height="22.27" fill="#adc6cf"/>
<rect x="421.43" y="299.59" width="22.34" height="22.27" fill="#72a0af"/>
<rect x="442.57" y="299.59" width="22.34" height="22.27" fill="#3f7f93"/>
<rect x="463.71" y="299.59" width="22.34" height="22.27" fill="#3f7f93"/>
<rect x="484.86" y="299.59" width="21.14" height="22.27" fill="#e8d0ca"/>
<rect x="358.00" y="320.66" width="22.34" height="22.27" fill="#79a5b3"/>
<rect x="379.14" y="320.66" width="22.34" height="22.27" fill="#cf7e69"/>
<rect x="400.29" y="320.66" width="22.34" height="22.27" fill="#adc6cf"/>
<rect x="421.43" y="320.66" width="22.34" height="22.27" fill="#72a0af"/>
<rect x="442.57" y="320.66" width="22.34" height="22.27" fill="#3f7f93"/>
<rect x="463.71" y="320.66" width="22.34" height="22.27" fill="#3f7f93"/>
<rect x="484.86" y="320.66" width="21.14" height="22.27" fill="#e8d0ca"/>
<rect x="358.00" y="341.73" width="22.34" height="21.07" fill="#efe6e4"/>
<rect x="379.14" y="341.73" width="22.34" height="21.07" fill="#f1ebe9"/>
<rect x="400.29" y="341.73" width="22.34" height="21.07" fill="#ecdcd8"/>
<rect x="421.43" y="341.73" width="22.34" height="21.07" fill="#e2bbb1"/>
<rect x="442.57" y="341.73" width="22.34" height="21.07" fill="#e8d0ca"/>
<rect x="463.71" y="341.73" width="22.34" height="21.07" fill="#e8d0ca"/>
<rect x="484.86" y="341.73" width="21.14" height="21.07" fill="#3f7f93"/>
</g>
<g text-anchor="middle" font-size="5.300" stroke-width="0.06">
<text transform="translate(368.57 227.97) rotate(0.06)" fill="#ffffff" stroke="#ffffff">1</text>
<text transform="translate(389.71 227.97) rotate(0.06)" fill="#ffffff" stroke="#ffffff">-0.77</text>
<text transform="translate(410.86 227.97) rotate(0.06)" fill="#262626" stroke="#262626">0.017</text>
<text transform="translate(432.00 227.97) rotate(0.06)" fill="#262626" stroke="#262626">0.44</text>
<text transform="translate(453.14 227.97) rotate(0.06)" fill="#ffffff" stroke="#ffffff">0.66</text>
<text transform="translate(474.29 227.97) rotate(0.06)" fill="#ffffff" stroke="#ffffff">0.66</text>
<text transform="translate(495.43 227.97) rotate(0.06)" fill="#262626" stroke="#262626">-0.073</text>
<text transform="translate(368.57 249.04) rotate(0.06)" fill="#ffffff" stroke="#ffffff">-0.77</text>
<text transform="translate(389.71 249.04) rotate(0.06)" fill="#ffffff" stroke="#ffffff">1</text>
<text transform="translate(410.86 249.04) rotate(0.06)" fill="#262626" stroke="#262626">0.027</text>
<text transform="translate(432.00 249.04) rotate(0.06)" fill="#262626" stroke="#262626">-0.44</text>
<text transform="translate(453.14 249.04) rotate(0.06)" fill="#ffffff" stroke="#ffffff">-0.74</text>
<text transform="translate(474.29 249.04) rotate(0.06)" fill="#ffffff" stroke="#ffffff">-0.74</text>
<text transform="translate(495.43 249.04) rotate(0.06)" fill="#262626" stroke="#262626">-0.043</text>
<text transform="translate(368.57 270.11) rotate(0.06)" fill="#262626" stroke="#262626">0.017</text>
<text transform="translate(389.71 270.11) rotate(0.06)" fill="#262626" stroke="#262626">0.027</text>
<text transform="translate(410.86 270.11) rotate(0.06)" fill="#ffffff" stroke="#ffffff">1</text>
<text transform="translate(432.00 270.11) rotate(0.06)" fill="#262626" stroke="#262626">-0.014</text>
<text transform="translate(453.14 270.11) rotate(0.06)" fill="#262626" stroke="#262626">0.37</text>
<text transform="translate(474.29 270.11) rotate(0.06)" fill="#262626" stroke="#262626">0.37</text>
<text transform="translate(495.43 270.11) rotate(0.06)" fill="#262626" stroke="#262626">-0.14</text>
<text transform="translate(368.57 291.18) rotate(0.06)" fill="#262626" stroke="#262626">0.44</text>
<text transform="translate(389.71 291.18) rotate(0.06)" fill="#262626" stroke="#262626">-0.44</text>
<text transform="translate(410.86 291.18) rotate(0.06)" fill="#262626" stroke="#262626">-0.014</text>
<text transform="translate(432.00 291.18) rotate(0.06)" fill="#ffffff" stroke="#ffffff">1</text>
<text transform="translate(453.14 291.18) rotate(0.06)" fill="#ffffff" stroke="#ffffff">0.7</text>
<text transform="translate(474.29 291.18) rotate(0.06)" fill="#ffffff" stroke="#ffffff">0.7</text>
<text transform="translate(495.43 291.18) rotate(0.06)" fill="#262626" stroke="#262626">-0.35</text>
<text transform="translate(368.57 312.26) rotate(0.06)" fill="#ffffff" stroke="#ffffff">0.66</text>
<text transform="translate(389.71 312.26) rotate(0.06)" fill="#ffffff" stroke="#ffffff">-0.74</text>
<text transform="translate(410.86 312.26) rotate(0.06)" fill="#262626" stroke="#262626">0.37</text>
<text transform="translate(432.00 312.26) rotate(0.06)" fill="#ffffff" stroke="#ffffff">0.7</text>
<text transform="translate(453.14 312.26) rotate(0.06)" fill="#ffffff" stroke="#ffffff">1</text>
<text transform="translate(474.29 312.26) rotate(0.06)" fill="#ffffff" stroke="#ffffff">1</text>
<text transform="translate(495.43 312.26) rotate(0.06)" fill="#262626" stroke="#262626">-0.22</text>
<text transform="translate(368.57 333.33) rotate(0.06)" fill="#ffffff" stroke="#ffffff">0.66</text>
<text transform="translate(389.71 333.33) rotate(0.06)" fill="#ffffff" stroke="#ffffff">-0.74</text>
<text transform="translate(410.86 333.33) rotate(0.06)" fill="#262626" stroke="#262626">0.37</text>
<text transform="translate(432.00 333.33) rotate(0.06)" fill="#ffffff" stroke="#ffffff">0.7</text>
<text transform="translate(453.14 333.33) rotate(0.06)" fill="#ffffff" stroke="#ffffff">1</text>
<text transform="translate(474.29 333.33) rotate(0.06)" fill="#ffffff" stroke="#ffffff">1</text>
<text transform="translate(495.43 333.33) rotate(0.06)" fill="#262626" stroke="#262626">-0.22</text>
<text transform="translate(368.57 354.40) rotate(0.06)" fill="#262626" stroke="#262626">-0.073</text>
<text transform="translate(389.71 354.40) rotate(0.06)" fill="#262626" stroke="#262626">-0.043</text>
<text transform="translate(410.86 354.40) rotate(0.06)" fill="#262626" stroke="#262626">-0.14</text>
<text transform="translate(432.00 354.40) rotate(0.06)" fill="#262626" stroke="#262626">-0.35</text>
<text transform="translate(453.14 354.40) rotate(0.06)" fill="#262626" stroke="#262626">-0.22</text>
<text transform="translate(474.29 354.40) rotate(0.06)" fill="#262626" stroke="#262626">-0.22</text>
<text transform="translate(495.43 354.40) rotate(0.06)" fill="#ffffff" stroke="#ffffff">1</text>
</g>
<g stroke="#262626" stroke-width="0.440">
<line x1="356.07" y1="225.84" x2="358.00" y2="225.84"/>
<line x1="368.57" y1="362.80" x2="368.57" y2="364.73"/>
<line x1="356.07" y1="246.91" x2="358.00" y2="246.91"/>
<line x1="389.71" y1="362.80" x2="389.71" y2="364.73"/>
<line x1="356.07" y1="267.98" x2="358.00" y2="267.98"/>
<line x1="410.86" y1="362.80" x2="410.86" y2="364.73"/>
<line x1="356.07" y1="289.05" x2="358.00" y2="289.05"/>
<line x1="432.00" y1="362.80" x2="432.00" y2="364.73"/>
<line x1="356.07" y1="310.12" x2="358.00" y2="310.12"/>
<line x1="453.14" y1="362.80" x2="453.14" y2="364.73"/>
<line x1="356.07" y1="331.19" x2="358.00" y2="331.19"/>
<line x1="474.29" y1="362.80" x2="474.29" y2="364.73"/>
<line x1="356.07" y1="352.26" x2="358.00" y2="352.26"/>
<line x1="495.43" y1="362.80" x2="495.43" y2="364.73"/>
<line x1="523.20" y1="215.30" x2="525.12" y2="215.30"/>
<line x1="523.20" y1="233.74" x2="525.12" y2="233.74"/>
<line x1="523.20" y1="252.18" x2="525.12" y2="252.18"/>
<line x1="523.20" y1="270.61" x2="525.12" y2="270.61"/>
<line x1="523.20" y1="289.05" x2="525.12" y2="289.05"/>
<line x1="523.20" y1="307.49" x2="525.12" y2="307.49"/>
<line x1="523.20" y1="325.93" x2="525.12" y2="325.93"/>
<line x1="523.20" y1="344.36" x2="525.12" y2="344.36"/>
<line x1="523.20" y1="362.80" x2="525.12" y2="362.80"/>
</g>
<g fill="#262626" stroke="#262626" stroke-width="0.06" text-anchor="end">
<text transform="translate(353.75 228.04) rotate(0.06)">Power bandwidth</text>
<text transform="translate(353.75 249.11) rotate(0.06)">Wavelet entropy</text>
<text transform="translate(353.75 270.19) rotate(0.06)">MFCC_3</text>
<text transform="translate(353.75 291.26) rotate(0.06)">MFCC_7</text>
<text transform="translate(353.75 312.33) rotate(0.06)">LPCC_8</text>
<text transform="translate(353.75 333.40) rotate(0.06)">LPCC_4</text>
<text transform="translate(353.75 354.47) rotate(0.06)">MFCC_4</text>
</g>
<g fill="#262626" stroke="#262626" stroke-width="0.06" text-anchor="end">
<text transform="translate(367.27 368.15) rotate(-89.94)">Power bandwidth</text>
<text transform="translate(388.42 368.15) rotate(-89.94)">Wavelet entropy</text>
<text transform="translate(409.56 368.15) rotate(-89.94)">MFCC_3</text>
<text transform="translate(430.70 368.15) rotate(-89.94)">MFCC_7</text>
<text transform="translate(451.84 368.15) rotate(-89.94)">LPCC_8</text>
<text transform="translate(472.99 368.15) rotate(-89.94)">LPCC_4</text>
<text transform="translate(494.13 368.15) rotate(-89.94)">MFCC_4</text>
</g>
<rect x="516.20" y="215.30" width="7.00" height="147.50" fill="url(#cb)"/>
<g fill="#262626" stroke="#262626" stroke-width="0.06" font-size="5.200">
<text transform="translate(527.75 217.60) rotate(0.06)">1.00</text>
<text transform="translate(527.75 236.04) rotate(0.06)">0.75</text>
<text transform="translate(527.75 254.47) rotate(0.06)">0.50</text>
<text transform="translate(527.75 272.91) rotate(0.06)">0.25</text>
<text transform="translate(527.75 291.35) rotate(0.06)">0.00</text>
<text transform="translate(527.75 309.79) rotate(0.06)">−0.25</text>
<text transform="translate(527.75 328.22) rotate(0.06)">−0.50</text>
<text transform="translate(527.75 346.66) rotate(0.06)">−0.75</text>
<text transform="translate(527.75 365.10) rotate(0.06)">−1.00</text>
</g>
</g>
<g class="p" font-size="5.140">
<g>
<rect x="127.50" y="424.40" width="20.54" height="20.54" fill="#3f7f93"/>
<rect x="146.84" y="424.40" width="20.54" height="20.54" fill="#ecdcd8"/>
<rect x="166.19" y="424.40" width="20.54" height="20.54" fill="#dce5e8"/>
<rect x="185.53" y="424.40" width="20.54" height="20.54" fill="#efe7e5"/>
<rect x="204.87" y="424.40" width="20.54" height="20.54" fill="#efe6e4"/>
<rect x="224.21" y="424.40" width="20.54" height="20.54" fill="#efe7e5"/>
<rect x="243.56" y="424.40" width="19.34" height="20.54" fill="#f1edec"/>
<rect x="127.50" y="443.74" width="20.54" height="20.54" fill="#ecdcd8"/>
<rect x="146.84" y="443.74" width="20.54" height="20.54" fill="#3f7f93"/>
<rect x="166.19" y="443.74" width="20.54" height="20.54" fill="#dde6e9"/>
<rect x="185.53" y="443.74" width="20.54" height="20.54" fill="#e5c6be"/>
<rect x="204.87" y="443.74" width="20.54" height="20.54" fill="#b4cbd2"/>
<rect x="224.21" y="443.74" width="20.54" height="20.54" fill="#bcd0d7"/>
<rect x="243.56" y="443.74" width="19.34" height="20.54" fill="#e2bbb1"/>
<rect x="127.50" y="463.09" width="20.54" height="20.54" fill="#dce5e8"/>
<rect x="146.84" y="463.09" width="20.54" height="20.54" fill="#dde6e9"/>
<rect x="166.19" y="463.09" width="20.54" height="20.54" fill="#3f7f93"/>
<rect x="185.53" y="463.09" width="20.54" height="20.54" fill="#e6c7c0"/>
<rect x="204.87" y="463.09" width="20.54" height="20.54" fill="#cad9de"/>
<rect x="224.21" y="463.09" width="20.54" height="20.54" fill="#abc6ce"/>
<rect x="243.56" y="463.09" width="19.34" height="20.54" fill="#d69584"/>
<rect x="127.50" y="482.43" width="20.54" height="20.54" fill="#efe7e5"/>
<rect x="146.84" y="482.43" width="20.54" height="20.54" fill="#e5c6be"/>
<rect x="166.19" y="482.43" width="20.54" height="20.54" fill="#e6c7c0"/>
<rect x="185.53" y="482.43" width="20.54" height="20.54" fill="#3f7f93"/>
<rect x="204.87" y="482.43" width="20.54" height="20.54" fill="#efe6e4"/>
<rect x="224.21" y="482.43" width="20.54" height="20.54" fill="#e9d1cb"/>
<rect x="243.56" y="482.43" width="19.34" height="20.54" fill="#e8edef"/>
<rect x="127.50" y="501.77" width="20.54" height="20.54" fill="#efe6e4"/>
<rect x="146.84" y="501.77" width="20.54" height="20.54" fill="#b4cbd2"/>
<rect x="166.19" y="501.77" width="20.54" height="20.54" fill="#cad9de"/>
<rect x="185.53" y="501.77" width="20.54" height="20.54" fill="#efe6e4"/>
<rect x="204.87" y="501.77" width="20.54" height="20.54" fill="#3f7f93"/>
<rect x="224.21" y="501.77" width="20.54" height="20.54" fill="#a0bec8"/>
<rect x="243.56" y="501.77" width="19.34" height="20.54" fill="#dba496"/>
<rect x="127.50" y="521.11" width="20.54" height="20.54" fill="#efe7e5"/>
<rect x="146.84" y="521.11" width="20.54" height="20.54" fill="#bcd0d7"/>
<rect x="166.19" y="521.11" width="20.54" height="20.54" fill="#abc6ce"/>
<rect x="185.53" y="521.11" width="20.54" height="20.54" fill="#e9d1cb"/>
<rect x="204.87" y="521.11" width="20.54" height="20.54" fill="#a0bec8"/>
<rect x="224.21" y="521.11" width="20.54" height="20.54" fill="#3f7f93"/>
<rect x="243.56" y="521.11" width="19.34" height="20.54" fill="#d5907e"/>
<rect x="127.50" y="540.46" width="20.54" height="19.34" fill="#f1edec"/>
<rect x="146.84" y="540.46" width="20.54" height="19.34" fill="#e2bbb1"/>
<rect x="166.19" y="540.46" width="20.54" height="19.34" fill="#d69584"/>
<rect x="185.53" y="540.46" width="20.54" height="19.34" fill="#e8edef"/>
<rect x="204.87" y="540.46" width="20.54" height="19.34" fill="#dba496"/>
<rect x="224.21" y="540.46" width="20.54" height="19.34" fill="#d5907e"/>
<rect x="243.56" y="540.46" width="19.34" height="19.34" fill="#3f7f93"/>
</g>
<g text-anchor="middle" font-size="4.600" stroke-width="0.06">
<text transform="translate(137.17 435.95) rotate(0.06)" fill="#ffffff" stroke="#ffffff">1</text>
<text transform="translate(156.51 435.95) rotate(0.06)" fill="#262626" stroke="#262626">-0.14</text>
<text transform="translate(175.86 435.95) rotate(0.06)" fill="#262626" stroke="#262626">0.11</text>
<text transform="translate(195.20 435.95) rotate(0.06)" fill="#262626" stroke="#262626">-0.065</text>
<text transform="translate(214.54 435.95) rotate(0.06)" fill="#262626" stroke="#262626">-0.071</text>
<text transform="translate(233.89 435.95) rotate(0.06)" fill="#262626" stroke="#262626">-0.066</text>
<text transform="translate(253.23 435.95) rotate(0.06)" fill="#262626" stroke="#262626">-0.028</text>
<text transform="translate(137.17 455.29) rotate(0.06)" fill="#262626" stroke="#262626">-0.14</text>
<text transform="translate(156.51 455.29) rotate(0.06)" fill="#ffffff" stroke="#ffffff">1</text>
<text transform="translate(175.86 455.29) rotate(0.06)" fill="#262626" stroke="#262626">0.1</text>
<text transform="translate(195.20 455.29) rotate(0.06)" fill="#262626" stroke="#262626">-0.28</text>
<text transform="translate(214.54 455.29) rotate(0.06)" fill="#262626" stroke="#262626">0.33</text>
<text transform="translate(233.89 455.29) rotate(0.06)" fill="#262626" stroke="#262626">0.29</text>
<text transform="translate(253.23 455.29) rotate(0.06)" fill="#262626" stroke="#262626">-0.34</text>
<text transform="translate(137.17 474.64) rotate(0.06)" fill="#262626" stroke="#262626">0.11</text>
<text transform="translate(156.51 474.64) rotate(0.06)" fill="#262626" stroke="#262626">0.1</text>
<text transform="translate(175.86 474.64) rotate(0.06)" fill="#ffffff" stroke="#ffffff">1</text>
<text transform="translate(195.20 474.64) rotate(0.06)" fill="#262626" stroke="#262626">-0.27</text>
<text transform="translate(214.54 474.64) rotate(0.06)" fill="#262626" stroke="#262626">0.21</text>
<text transform="translate(233.89 474.64) rotate(0.06)" fill="#262626" stroke="#262626">0.38</text>
<text transform="translate(253.23 474.64) rotate(0.06)" fill="#ffffff" stroke="#ffffff">-0.59</text>
<text transform="translate(137.17 493.98) rotate(0.06)" fill="#262626" stroke="#262626">-0.065</text>
<text transform="translate(156.51 493.98) rotate(0.06)" fill="#262626" stroke="#262626">-0.28</text>
<text transform="translate(175.86 493.98) rotate(0.06)" fill="#262626" stroke="#262626">-0.27</text>
<text transform="translate(195.20 493.98) rotate(0.06)" fill="#ffffff" stroke="#ffffff">1</text>
<text transform="translate(214.54 493.98) rotate(0.06)" fill="#262626" stroke="#262626">-0.074</text>
<text transform="translate(233.89 493.98) rotate(0.06)" fill="#262626" stroke="#262626">-0.21</text>
<text transform="translate(253.23 493.98) rotate(0.06)" fill="#262626" stroke="#262626">0.041</text>
<text transform="translate(137.17 513.32) rotate(0.06)" fill="#262626" stroke="#262626">-0.071</text>
<text transform="translate(156.51 513.32) rotate(0.06)" fill="#262626" stroke="#262626">0.33</text>
<text transform="translate(175.86 513.32) rotate(0.06)" fill="#262626" stroke="#262626">0.21</text>
<text transform="translate(195.20 513.32) rotate(0.06)" fill="#262626" stroke="#262626">-0.074</text>
<text transform="translate(214.54 513.32) rotate(0.06)" fill="#ffffff" stroke="#ffffff">1</text>
<text transform="translate(233.89 513.32) rotate(0.06)" fill="#262626" stroke="#262626">0.44</text>
<text transform="translate(253.23 513.32) rotate(0.06)" fill="#262626" stroke="#262626">-0.5</text>
<text transform="translate(137.17 532.66) rotate(0.06)" fill="#262626" stroke="#262626">-0.066</text>
<text transform="translate(156.51 532.66) rotate(0.06)" fill="#262626" stroke="#262626">0.29</text>
<text transform="translate(175.86 532.66) rotate(0.06)" fill="#262626" stroke="#262626">0.38</text>
<text transform="translate(195.20 532.66) rotate(0.06)" fill="#262626" stroke="#262626">-0.21</text>
<text transform="translate(214.54 532.66) rotate(0.06)" fill="#262626" stroke="#262626">0.44</text>
<text transform="translate(233.89 532.66) rotate(0.06)" fill="#ffffff" stroke="#ffffff">1</text>
<text transform="translate(253.23 532.66) rotate(0.06)" fill="#ffffff" stroke="#ffffff">-0.62</text>
<text transform="translate(137.17 552.01) rotate(0.06)" fill="#262626" stroke="#262626">-0.028</text>
<text transform="translate(156.51 552.01) rotate(0.06)" fill="#262626" stroke="#262626">-0.34</text>
<text transform="translate(175.86 552.01) rotate(0.06)" fill="#ffffff" stroke="#ffffff">-0.59</text>
<text transform="translate(195.20 552.01) rotate(0.06)" fill="#262626" stroke="#262626">0.041</text>
<text transform="translate(214.54 552.01) rotate(0.06)" fill="#262626" stroke="#262626">-0.5</text>
<text transform="translate(233.89 552.01) rotate(0.06)" fill="#ffffff" stroke="#ffffff">-0.62</text>
<text transform="translate(253.23 552.01) rotate(0.06)" fill="#ffffff" stroke="#ffffff">1</text>
</g>
<g stroke="#262626" stroke-width="0.406">
<line x1="125.73" y1="434.07" x2="127.50" y2="434.07"/>
<line x1="137.17" y1="559.80" x2="137.17" y2="561.57"/>
<line x1="125.73" y1="453.41" x2="127.50" y2="453.41"/>
<line x1="156.51" y1="559.80" x2="156.51" y2="561.57"/>
<line x1="125.73" y1="472.76" x2="127.50" y2="472.76"/>
<line x1="175.86" y1="559.80" x2="175.86" y2="561.57"/>
<line x1="125.73" y1="492.10" x2="127.50" y2="492.10"/>
<line x1="195.20" y1="559.80" x2="195.20" y2="561.57"/>
<line x1="125.73" y1="511.44" x2="127.50" y2="511.44"/>
<line x1="214.54" y1="559.80" x2="214.54" y2="561.57"/>
<line x1="125.73" y1="530.79" x2="127.50" y2="530.79"/>
<line x1="233.89" y1="559.80" x2="233.89" y2="561.57"/>
<line x1="125.73" y1="550.13" x2="127.50" y2="550.13"/>
<line x1="253.23" y1="559.80" x2="253.23" y2="561.57"/>
<line x1="278.70" y1="424.40" x2="280.47" y2="424.40"/>
<line x1="278.70" y1="441.32" x2="280.47" y2="441.32"/>
<line x1="278.70" y1="458.25" x2="280.47" y2="458.25"/>
<line x1="278.70" y1="475.17" x2="280.47" y2="475.17"/>
<line x1="278.70" y1="492.10" x2="280.47" y2="492.10"/>
<line x1="278.70" y1="509.02" x2="280.47" y2="509.02"/>
<line x1="278.70" y1="525.95" x2="280.47" y2="525.95"/>
<line x1="278.70" y1="542.88" x2="280.47" y2="542.88"/>
<line x1="278.70" y1="559.80" x2="280.47" y2="559.80"/>
</g>
<g fill="#262626" stroke="#262626" stroke-width="0.06" text-anchor="end">
<text transform="translate(123.55 436.15) rotate(0.06)">Centroid</text>
<text transform="translate(123.55 455.49) rotate(0.06)">FFT mean coefficient_15</text>
<text transform="translate(123.55 474.83) rotate(0.06)">MFCC_4</text>
<text transform="translate(123.55 494.18) rotate(0.06)">MFCC_2</text>
<text transform="translate(123.55 513.52) rotate(0.06)">MFCC_7</text>
<text transform="translate(123.55 532.86) rotate(0.06)">FFT mean coefficient_18</text>
<text transform="translate(123.55 552.20) rotate(0.06)">Spectral variation</text>
</g>
<g fill="#262626" stroke="#262626" stroke-width="0.06" text-anchor="end">
<text transform="translate(135.96 564.85) rotate(-89.94)">Centroid</text>
<text transform="translate(155.30 564.85) rotate(-89.94)">FFT mean coefficient_15</text>
<text transform="translate(174.64 564.85) rotate(-89.94)">MFCC_4</text>
<text transform="translate(193.99 564.85) rotate(-89.94)">MFCC_2</text>
<text transform="translate(213.33 564.85) rotate(-89.94)">MFCC_7</text>
<text transform="translate(232.67 564.85) rotate(-89.94)">FFT mean coefficient_18</text>
<text transform="translate(252.02 564.85) rotate(-89.94)">Spectral variation</text>
</g>
<rect x="272.30" y="424.40" width="6.40" height="135.40" fill="url(#cb)"/>
<g fill="#262626" stroke="#262626" stroke-width="0.06" font-size="4.670">
<text transform="translate(282.95 426.50) rotate(0.06)">1.00</text>
<text transform="translate(282.95 443.43) rotate(0.06)">0.75</text>
<text transform="translate(282.95 460.35) rotate(0.06)">0.50</text>
<text transform="translate(282.95 477.28) rotate(0.06)">0.25</text>
<text transform="translate(282.95 494.20) rotate(0.06)">0.00</text>
<text transform="translate(282.95 511.13) rotate(0.06)">−0.25</text>
<text transform="translate(282.95 528.05) rotate(0.06)">−0.50</text>
<text transform="translate(282.95 544.98) rotate(0.06)">−0.75</text>
<text transform="translate(282.95 561.90) rotate(0.06)">−1.00</text>
</g>
</g>
<g class="p" font-size="5.140">
<g>
<rect x="372.40" y="424.40" width="20.73" height="20.71" fill="#3f7f93"/>
<rect x="391.93" y="424.40" width="20.73" height="20.71" fill="#b8ced5"/>
<rect x="411.46" y="424.40" width="20.73" height="20.71" fill="#e1b9af"/>
<rect x="430.99" y="424.40" width="20.73" height="20.71" fill="#e3c0b7"/>
<rect x="450.51" y="424.40" width="20.73" height="20.71" fill="#eaeef0"/>
<rect x="470.04" y="424.40" width="20.73" height="20.71" fill="#d1dee2"/>
<rect x="489.57" y="424.40" width="19.53" height="20.71" fill="#f1eceb"/>
<rect x="372.40" y="443.91" width="20.73" height="20.71" fill="#b8ced5"/>
<rect x="391.93" y="443.91" width="20.73" height="20.71" fill="#3f7f93"/>
<rect x="411.46" y="443.91" width="20.73" height="20.71" fill="#e2bbb1"/>
<rect x="430.99" y="443.91" width="20.73" height="20.71" fill="#dba496"/>
<rect x="450.51" y="443.91" width="20.73" height="20.71" fill="#efe6e4"/>
<rect x="470.04" y="443.91" width="20.73" height="20.71" fill="#9bbbc5"/>
<rect x="489.57" y="443.91" width="19.53" height="20.71" fill="#e5c5bd"/>
<rect x="372.40" y="463.43" width="20.73" height="20.71" fill="#e1b9af"/>
<rect x="391.93" y="463.43" width="20.73" height="20.71" fill="#e2bbb1"/>
<rect x="411.46" y="463.43" width="20.73" height="20.71" fill="#3f7f93"/>
<rect x="430.99" y="463.43" width="20.73" height="20.71" fill="#f1eceb"/>
<rect x="450.51" y="463.43" width="20.73" height="20.71" fill="#e2bbb1"/>
<rect x="470.04" y="463.43" width="20.73" height="20.71" fill="#e8cfc8"/>
<rect x="489.57" y="463.43" width="19.53" height="20.71" fill="#eaeef0"/>
<rect x="372.40" y="482.94" width="20.73" height="20.71" fill="#e3c0b7"/>
<rect x="391.93" y="482.94" width="20.73" height="20.71" fill="#dba496"/>
<rect x="411.46" y="482.94" width="20.73" height="20.71" fill="#f1eceb"/>
<rect x="430.99" y="482.94" width="20.73" height="20.71" fill="#3f7f93"/>
<rect x="450.51" y="482.94" width="20.73" height="20.71" fill="#c4d6db"/>
<rect x="470.04" y="482.94" width="20.73" height="20.71" fill="#d69584"/>
<rect x="489.57" y="482.94" width="19.53" height="20.71" fill="#c3d5db"/>
<rect x="372.40" y="502.46" width="20.73" height="20.71" fill="#eaeef0"/>
<rect x="391.93" y="502.46" width="20.73" height="20.71" fill="#efe6e4"/>
<rect x="411.46" y="502.46" width="20.73" height="20.71" fill="#e2bbb1"/>
<rect x="430.99" y="502.46" width="20.73" height="20.71" fill="#c4d6db"/>
<rect x="450.51" y="502.46" width="20.73" height="20.71" fill="#3f7f93"/>
<rect x="470.04" y="502.46" width="20.73" height="20.71" fill="#e1e9eb"/>
<rect x="489.57" y="502.46" width="19.53" height="20.71" fill="#b8ced5"/>
<rect x="372.40" y="521.97" width="20.73" height="20.71" fill="#d1dee2"/>
<rect x="391.93" y="521.97" width="20.73" height="20.71" fill="#9bbbc5"/>
<rect x="411.46" y="521.97" width="20.73" height="20.71" fill="#e8cfc8"/>
<rect x="430.99" y="521.97" width="20.73" height="20.71" fill="#d69584"/>
<rect x="450.51" y="521.97" width="20.73" height="20.71" fill="#e1e9eb"/>
<rect x="470.04" y="521.97" width="20.73" height="20.71" fill="#3f7f93"/>
<rect x="489.57" y="521.97" width="19.53" height="20.71" fill="#e5c4bb"/>
<rect x="372.40" y="541.49" width="20.73" height="19.51" fill="#f1eceb"/>
<rect x="391.93" y="541.49" width="20.73" height="19.51" fill="#e5c5bd"/>
<rect x="411.46" y="541.49" width="20.73" height="19.51" fill="#eaeef0"/>
<rect x="430.99" y="541.49" width="20.73" height="19.51" fill="#c3d5db"/>
<rect x="450.51" y="541.49" width="20.73" height="19.51" fill="#b8ced5"/>
<rect x="470.04" y="541.49" width="20.73" height="19.51" fill="#e5c4bb"/>
<rect x="489.57" y="541.49" width="19.53" height="19.51" fill="#3f7f93"/>
</g>
<g text-anchor="middle" font-size="4.600" stroke-width="0.06">
<text transform="translate(382.16 436.04) rotate(0.06)" fill="#ffffff" stroke="#ffffff">1</text>
<text transform="translate(401.69 436.04) rotate(0.06)" fill="#262626" stroke="#262626">0.31</text>
<text transform="translate(421.22 436.04) rotate(0.06)" fill="#262626" stroke="#262626">-0.37</text>
<text transform="translate(440.75 436.04) rotate(0.06)" fill="#262626" stroke="#262626">-0.32</text>
<text transform="translate(460.28 436.04) rotate(0.06)" fill="#262626" stroke="#262626">0.039</text>
<text transform="translate(479.81 436.04) rotate(0.06)" fill="#262626" stroke="#262626">0.17</text>
<text transform="translate(499.34 436.04) rotate(0.06)" fill="#262626" stroke="#262626">-0.033</text>
<text transform="translate(382.16 455.55) rotate(0.06)" fill="#262626" stroke="#262626">0.31</text>
<text transform="translate(401.69 455.55) rotate(0.06)" fill="#ffffff" stroke="#ffffff">1</text>
<text transform="translate(421.22 455.55) rotate(0.06)" fill="#262626" stroke="#262626">-0.34</text>
<text transform="translate(440.75 455.55) rotate(0.06)" fill="#262626" stroke="#262626">-0.5</text>
<text transform="translate(460.28 455.55) rotate(0.06)" fill="#262626" stroke="#262626">-0.076</text>
<text transform="translate(479.81 455.55) rotate(0.06)" fill="#262626" stroke="#262626">0.47</text>
<text transform="translate(499.34 455.55) rotate(0.06)" fill="#262626" stroke="#262626">-0.29</text>
<text transform="translate(382.16 475.06) rotate(0.06)" fill="#262626" stroke="#262626">-0.37</text>
<text transform="translate(401.69 475.06) rotate(0.06)" fill="#262626" stroke="#262626">-0.34</text>
<text transform="translate(421.22 475.06) rotate(0.06)" fill="#ffffff" stroke="#ffffff">1</text>
<text transform="translate(440.75 475.06) rotate(0.06)" fill="#262626" stroke="#262626">-0.038</text>
<text transform="translate(460.28 475.06) rotate(0.06)" fill="#262626" stroke="#262626">-0.35</text>
<text transform="translate(479.81 475.06) rotate(0.06)" fill="#262626" stroke="#262626">-0.23</text>
<text transform="translate(499.34 475.06) rotate(0.06)" fill="#262626" stroke="#262626">0.034</text>
<text transform="translate(382.16 494.58) rotate(0.06)" fill="#262626" stroke="#262626">-0.32</text>
<text transform="translate(401.69 494.58) rotate(0.06)" fill="#262626" stroke="#262626">-0.5</text>
<text transform="translate(421.22 494.58) rotate(0.06)" fill="#262626" stroke="#262626">-0.038</text>
<text transform="translate(440.75 494.58) rotate(0.06)" fill="#ffffff" stroke="#ffffff">1</text>
<text transform="translate(460.28 494.58) rotate(0.06)" fill="#262626" stroke="#262626">0.24</text>
<text transform="translate(479.81 494.58) rotate(0.06)" fill="#ffffff" stroke="#ffffff">-0.59</text>
<text transform="translate(499.34 494.58) rotate(0.06)" fill="#262626" stroke="#262626">0.25</text>
<text transform="translate(382.16 514.09) rotate(0.06)" fill="#262626" stroke="#262626">0.039</text>
<text transform="translate(401.69 514.09) rotate(0.06)" fill="#262626" stroke="#262626">-0.076</text>
<text transform="translate(421.22 514.09) rotate(0.06)" fill="#262626" stroke="#262626">-0.35</text>
<text transform="translate(440.75 514.09) rotate(0.06)" fill="#262626" stroke="#262626">0.24</text>
<text transform="translate(460.28 514.09) rotate(0.06)" fill="#ffffff" stroke="#ffffff">1</text>
<text transform="translate(479.81 514.09) rotate(0.06)" fill="#262626" stroke="#262626">0.088</text>
<text transform="translate(499.34 514.09) rotate(0.06)" fill="#262626" stroke="#262626">0.31</text>
<text transform="translate(382.16 533.61) rotate(0.06)" fill="#262626" stroke="#262626">0.17</text>
<text transform="translate(401.69 533.61) rotate(0.06)" fill="#262626" stroke="#262626">0.47</text>
<text transform="translate(421.22 533.61) rotate(0.06)" fill="#262626" stroke="#262626">-0.23</text>
<text transform="translate(440.75 533.61) rotate(0.06)" fill="#ffffff" stroke="#ffffff">-0.59</text>
<text transform="translate(460.28 533.61) rotate(0.06)" fill="#262626" stroke="#262626">0.088</text>
<text transform="translate(479.81 533.61) rotate(0.06)" fill="#ffffff" stroke="#ffffff">1</text>
<text transform="translate(499.34 533.61) rotate(0.06)" fill="#262626" stroke="#262626">-0.3</text>
<text transform="translate(382.16 553.12) rotate(0.06)" fill="#262626" stroke="#262626">-0.033</text>
<text transform="translate(401.69 553.12) rotate(0.06)" fill="#262626" stroke="#262626">-0.29</text>
<text transform="translate(421.22 553.12) rotate(0.06)" fill="#262626" stroke="#262626">0.034</text>
<text transform="translate(440.75 553.12) rotate(0.06)" fill="#262626" stroke="#262626">0.25</text>
<text transform="translate(460.28 553.12) rotate(0.06)" fill="#262626" stroke="#262626">0.31</text>
<text transform="translate(479.81 553.12) rotate(0.06)" fill="#262626" stroke="#262626">-0.3</text>
<text transform="translate(499.34 553.12) rotate(0.06)" fill="#ffffff" stroke="#ffffff">1</text>
</g>
<g stroke="#262626" stroke-width="0.406">
<line x1="370.63" y1="434.16" x2="372.40" y2="434.16"/>
<line x1="382.16" y1="561.00" x2="382.16" y2="562.77"/>
<line x1="370.63" y1="453.67" x2="372.40" y2="453.67"/>
<line x1="401.69" y1="561.00" x2="401.69" y2="562.77"/>
<line x1="370.63" y1="473.19" x2="372.40" y2="473.19"/>
<line x1="421.22" y1="561.00" x2="421.22" y2="562.77"/>
<line x1="370.63" y1="492.70" x2="372.40" y2="492.70"/>
<line x1="440.75" y1="561.00" x2="440.75" y2="562.77"/>
<line x1="370.63" y1="512.21" x2="372.40" y2="512.21"/>
<line x1="460.28" y1="561.00" x2="460.28" y2="562.77"/>
<line x1="370.63" y1="531.73" x2="372.40" y2="531.73"/>
<line x1="479.81" y1="561.00" x2="479.81" y2="562.77"/>
<line x1="370.63" y1="551.24" x2="372.40" y2="551.24"/>
<line x1="499.34" y1="561.00" x2="499.34" y2="562.77"/>
<line x1="525.10" y1="424.40" x2="526.87" y2="424.40"/>
<line x1="525.10" y1="441.47" x2="526.87" y2="441.47"/>
<line x1="525.10" y1="458.55" x2="526.87" y2="458.55"/>
<line x1="525.10" y1="475.62" x2="526.87" y2="475.62"/>
<line x1="525.10" y1="492.70" x2="526.87" y2="492.70"/>
<line x1="525.10" y1="509.77" x2="526.87" y2="509.77"/>
<line x1="525.10" y1="526.85" x2="526.87" y2="526.85"/>
<line x1="525.10" y1="543.92" x2="526.87" y2="543.92"/>
<line x1="525.10" y1="561.00" x2="526.87" y2="561.00"/>
</g>
<g fill="#262626" stroke="#262626" stroke-width="0.06" text-anchor="end">
<text transform="translate(368.45 436.23) rotate(0.06)">Centroid</text>
<text transform="translate(368.45 455.75) rotate(0.06)">FFT mean coefficient_15</text>
<text transform="translate(368.45 475.26) rotate(0.06)">MFCC_4</text>
<text transform="translate(368.45 494.78) rotate(0.06)">MFCC_2</text>
<text transform="translate(368.45 514.29) rotate(0.06)">MFCC_7</text>
<text transform="translate(368.45 533.80) rotate(0.06)">FFT mean coefficient_18</text>
<text transform="translate(368.45 553.32) rotate(0.06)">Spectral variation</text>
</g>
<g fill="#262626" stroke="#262626" stroke-width="0.06" text-anchor="end">
<text transform="translate(380.95 566.05) rotate(-89.94)">Centroid</text>
<text transform="translate(400.48 566.05) rotate(-89.94)">FFT mean coefficient_15</text>
<text transform="translate(420.01 566.05) rotate(-89.94)">MFCC_4</text>
<text transform="translate(439.54 566.05) rotate(-89.94)">MFCC_2</text>
<text transform="translate(459.07 566.05) rotate(-89.94)">MFCC_7</text>
<text transform="translate(478.59 566.05) rotate(-89.94)">FFT mean coefficient_18</text>
<text transform="translate(498.12 566.05) rotate(-89.94)">Spectral variation</text>
</g>
<rect x="518.70" y="424.40" width="6.40" height="136.60" fill="url(#cb)"/>
<g fill="#262626" stroke="#262626" stroke-width="0.06" font-size="4.670">
<text transform="translate(529.35 426.50) rotate(0.06)">1.00</text>
<text transform="translate(529.35 443.58) rotate(0.06)">0.75</text>
<text transform="translate(529.35 460.65) rotate(0.06)">0.50</text>
<text transform="translate(529.35 477.73) rotate(0.06)">0.25</text>
<text transform="translate(529.35 494.80) rotate(0.06)">0.00</text>
<text transform="translate(529.35 511.88) rotate(0.06)">−0.25</text>
<text transform="translate(529.35 528.95) rotate(0.06)">−0.50</text>
<text transform="translate(529.35 546.03) rotate(0.06)">−0.75</text>
<text transform="translate(529.35 563.10) rotate(0.06)">−1.00</text>
</g>
</g>
<g class="p" font-size="5.140">
<g>
<rect x="128.40" y="634.20" width="20.83" height="20.64" fill="#3f7f93"/>
<rect x="148.03" y="634.20" width="20.83" height="20.64" fill="#e5c6be"/>
<rect x="167.66" y="634.20" width="20.83" height="20.64" fill="#ecdcd8"/>
<rect x="187.29" y="634.20" width="20.83" height="20.64" fill="#b1c9d1"/>
<rect x="206.91" y="634.20" width="20.83" height="20.64" fill="#dde6e9"/>
<rect x="226.54" y="634.20" width="20.83" height="20.64" fill="#b1c9d1"/>
<rect x="246.17" y="634.20" width="19.63" height="20.64" fill="#e2bbb1"/>
<rect x="128.40" y="653.64" width="20.83" height="20.64" fill="#e5c6be"/>
<rect x="148.03" y="653.64" width="20.83" height="20.64" fill="#3f7f93"/>
<rect x="167.66" y="653.64" width="20.83" height="20.64" fill="#efe7e5"/>
<rect x="187.29" y="653.64" width="20.83" height="20.64" fill="#dfb0a5"/>
<rect x="206.91" y="653.64" width="20.83" height="20.64" fill="#e6c7c0"/>
<rect x="226.54" y="653.64" width="20.83" height="20.64" fill="#f2f1f1"/>
<rect x="246.17" y="653.64" width="19.63" height="20.64" fill="#e8edef"/>
<rect x="128.40" y="673.09" width="20.83" height="20.64" fill="#ecdcd8"/>
<rect x="148.03" y="673.09" width="20.83" height="20.64" fill="#efe7e5"/>
<rect x="167.66" y="673.09" width="20.83" height="20.64" fill="#3f7f93"/>
<rect x="187.29" y="673.09" width="20.83" height="20.64" fill="#d5e0e4"/>
<rect x="206.91" y="673.09" width="20.83" height="20.64" fill="#dce5e8"/>
<rect x="226.54" y="673.09" width="20.83" height="20.64" fill="#dfe7ea"/>
<rect x="246.17" y="673.09" width="19.63" height="20.64" fill="#f1edec"/>
<rect x="128.40" y="692.53" width="20.83" height="20.64" fill="#b1c9d1"/>
<rect x="148.03" y="692.53" width="20.83" height="20.64" fill="#dfb0a5"/>
<rect x="167.66" y="692.53" width="20.83" height="20.64" fill="#d5e0e4"/>
<rect x="187.29" y="692.53" width="20.83" height="20.64" fill="#3f7f93"/>
<rect x="206.91" y="692.53" width="20.83" height="20.64" fill="#f1ebe9"/>
<rect x="226.54" y="692.53" width="20.83" height="20.64" fill="#eee1de"/>
<rect x="246.17" y="692.53" width="19.63" height="20.64" fill="#d6e1e5"/>
<rect x="128.40" y="711.97" width="20.83" height="20.64" fill="#dde6e9"/>
<rect x="148.03" y="711.97" width="20.83" height="20.64" fill="#e6c7c0"/>
<rect x="167.66" y="711.97" width="20.83" height="20.64" fill="#dce5e8"/>
<rect x="187.29" y="711.97" width="20.83" height="20.64" fill="#f1ebe9"/>
<rect x="206.91" y="711.97" width="20.83" height="20.64" fill="#3f7f93"/>
<rect x="226.54" y="711.97" width="20.83" height="20.64" fill="#9abac4"/>
<rect x="246.17" y="711.97" width="19.63" height="20.64" fill="#d69584"/>
<rect x="128.40" y="731.41" width="20.83" height="20.64" fill="#b1c9d1"/>
<rect x="148.03" y="731.41" width="20.83" height="20.64" fill="#f2f1f1"/>
<rect x="167.66" y="731.41" width="20.83" height="20.64" fill="#dfe7ea"/>
<rect x="187.29" y="731.41" width="20.83" height="20.64" fill="#eee1de"/>
<rect x="206.91" y="731.41" width="20.83" height="20.64" fill="#9abac4"/>
<rect x="226.54" y="731.41" width="20.83" height="20.64" fill="#3f7f93"/>
<rect x="246.17" y="731.41" width="19.63" height="20.64" fill="#ca6d55"/>
<rect x="128.40" y="750.86" width="20.83" height="19.44" fill="#e2bbb1"/>
<rect x="148.03" y="750.86" width="20.83" height="19.44" fill="#e8edef"/>
<rect x="167.66" y="750.86" width="20.83" height="19.44" fill="#f1edec"/>
<rect x="187.29" y="750.86" width="20.83" height="19.44" fill="#d6e1e5"/>
<rect x="206.91" y="750.86" width="20.83" height="19.44" fill="#d69584"/>
<rect x="226.54" y="750.86" width="20.83" height="19.44" fill="#ca6d55"/>
<rect x="246.17" y="750.86" width="19.63" height="19.44" fill="#3f7f93"/>
</g>
<g text-anchor="middle" font-size="4.600" stroke-width="0.06">
<text transform="translate(138.21 645.80) rotate(0.06)" fill="#ffffff" stroke="#ffffff">1</text>
<text transform="translate(157.84 645.80) rotate(0.06)" fill="#262626" stroke="#262626">-0.28</text>
<text transform="translate(177.47 645.80) rotate(0.06)" fill="#262626" stroke="#262626">-0.14</text>
<text transform="translate(197.10 645.80) rotate(0.06)" fill="#262626" stroke="#262626">0.35</text>
<text transform="translate(216.73 645.80) rotate(0.06)" fill="#262626" stroke="#262626">0.1</text>
<text transform="translate(236.36 645.80) rotate(0.06)" fill="#262626" stroke="#262626">0.35</text>
<text transform="translate(255.99 645.80) rotate(0.06)" fill="#262626" stroke="#262626">-0.34</text>
<text transform="translate(138.21 665.24) rotate(0.06)" fill="#262626" stroke="#262626">-0.28</text>
<text transform="translate(157.84 665.24) rotate(0.06)" fill="#ffffff" stroke="#ffffff">1</text>
<text transform="translate(177.47 665.24) rotate(0.06)" fill="#262626" stroke="#262626">-0.065</text>
<text transform="translate(197.10 665.24) rotate(0.06)" fill="#262626" stroke="#262626">-0.42</text>
<text transform="translate(216.73 665.24) rotate(0.06)" fill="#262626" stroke="#262626">-0.27</text>
<text transform="translate(236.36 665.24) rotate(0.06)" fill="#262626" stroke="#262626">-0.01</text>
<text transform="translate(255.99 665.24) rotate(0.06)" fill="#262626" stroke="#262626">0.041</text>
<text transform="translate(138.21 684.69) rotate(0.06)" fill="#262626" stroke="#262626">-0.14</text>
<text transform="translate(157.84 684.69) rotate(0.06)" fill="#262626" stroke="#262626">-0.065</text>
<text transform="translate(177.47 684.69) rotate(0.06)" fill="#ffffff" stroke="#ffffff">1</text>
<text transform="translate(197.10 684.69) rotate(0.06)" fill="#262626" stroke="#262626">0.16</text>
<text transform="translate(216.73 684.69) rotate(0.06)" fill="#262626" stroke="#262626">0.11</text>
<text transform="translate(236.36 684.69) rotate(0.06)" fill="#262626" stroke="#262626">0.097</text>
<text transform="translate(255.99 684.69) rotate(0.06)" fill="#262626" stroke="#262626">-0.028</text>
<text transform="translate(138.21 704.13) rotate(0.06)" fill="#262626" stroke="#262626">0.35</text>
<text transform="translate(157.84 704.13) rotate(0.06)" fill="#262626" stroke="#262626">-0.42</text>
<text transform="translate(177.47 704.13) rotate(0.06)" fill="#262626" stroke="#262626">0.16</text>
<text transform="translate(197.10 704.13) rotate(0.06)" fill="#ffffff" stroke="#ffffff">1</text>
<text transform="translate(216.73 704.13) rotate(0.06)" fill="#262626" stroke="#262626">-0.047</text>
<text transform="translate(236.36 704.13) rotate(0.06)" fill="#262626" stroke="#262626">-0.11</text>
<text transform="translate(255.99 704.13) rotate(0.06)" fill="#262626" stroke="#262626">0.14</text>
<text transform="translate(138.21 723.57) rotate(0.06)" fill="#262626" stroke="#262626">0.1</text>
<text transform="translate(157.84 723.57) rotate(0.06)" fill="#262626" stroke="#262626">-0.27</text>
<text transform="translate(177.47 723.57) rotate(0.06)" fill="#262626" stroke="#262626">0.11</text>
<text transform="translate(197.10 723.57) rotate(0.06)" fill="#262626" stroke="#262626">-0.047</text>
<text transform="translate(216.73 723.57) rotate(0.06)" fill="#ffffff" stroke="#ffffff">1</text>
<text transform="translate(236.36 723.57) rotate(0.06)" fill="#262626" stroke="#262626">0.48</text>
<text transform="translate(255.99 723.57) rotate(0.06)" fill="#ffffff" stroke="#ffffff">-0.59</text>
<text transform="translate(138.21 743.01) rotate(0.06)" fill="#262626" stroke="#262626">0.35</text>
<text transform="translate(157.84 743.01) rotate(0.06)" fill="#262626" stroke="#262626">-0.01</text>
<text transform="translate(177.47 743.01) rotate(0.06)" fill="#262626" stroke="#262626">0.097</text>
<text transform="translate(197.10 743.01) rotate(0.06)" fill="#262626" stroke="#262626">-0.11</text>
<text transform="translate(216.73 743.01) rotate(0.06)" fill="#262626" stroke="#262626">0.48</text>
<text transform="translate(236.36 743.01) rotate(0.06)" fill="#ffffff" stroke="#ffffff">1</text>
<text transform="translate(255.99 743.01) rotate(0.06)" fill="#ffffff" stroke="#ffffff">-0.85</text>
<text transform="translate(138.21 762.46) rotate(0.06)" fill="#262626" stroke="#262626">-0.34</text>
<text transform="translate(157.84 762.46) rotate(0.06)" fill="#262626" stroke="#262626">0.041</text>
<text transform="translate(177.47 762.46) rotate(0.06)" fill="#262626" stroke="#262626">-0.028</text>
<text transform="translate(197.10 762.46) rotate(0.06)" fill="#262626" stroke="#262626">0.14</text>
<text transform="translate(216.73 762.46) rotate(0.06)" fill="#ffffff" stroke="#ffffff">-0.59</text>
<text transform="translate(236.36 762.46) rotate(0.06)" fill="#ffffff" stroke="#ffffff">-0.85</text>
<text transform="translate(255.99 762.46) rotate(0.06)" fill="#ffffff" stroke="#ffffff">1</text>
</g>
<g stroke="#262626" stroke-width="0.406">
<line x1="126.63" y1="643.92" x2="128.40" y2="643.92"/>
<line x1="138.21" y1="770.30" x2="138.21" y2="772.07"/>
<line x1="126.63" y1="663.36" x2="128.40" y2="663.36"/>
<line x1="157.84" y1="770.30" x2="157.84" y2="772.07"/>
<line x1="126.63" y1="682.81" x2="128.40" y2="682.81"/>
<line x1="177.47" y1="770.30" x2="177.47" y2="772.07"/>
<line x1="126.63" y1="702.25" x2="128.40" y2="702.25"/>
<line x1="197.10" y1="770.30" x2="197.10" y2="772.07"/>
<line x1="126.63" y1="721.69" x2="128.40" y2="721.69"/>
<line x1="216.73" y1="770.30" x2="216.73" y2="772.07"/>
<line x1="126.63" y1="741.14" x2="128.40" y2="741.14"/>
<line x1="236.36" y1="770.30" x2="236.36" y2="772.07"/>
<line x1="126.63" y1="760.58" x2="128.40" y2="760.58"/>
<line x1="255.99" y1="770.30" x2="255.99" y2="772.07"/>
<line x1="281.40" y1="634.20" x2="283.17" y2="634.20"/>
<line x1="281.40" y1="651.21" x2="283.17" y2="651.21"/>
<line x1="281.40" y1="668.23" x2="283.17" y2="668.23"/>
<line x1="281.40" y1="685.24" x2="283.17" y2="685.24"/>
<line x1="281.40" y1="702.25" x2="283.17" y2="702.25"/>
<line x1="281.40" y1="719.26" x2="283.17" y2="719.26"/>
<line x1="281.40" y1="736.27" x2="283.17" y2="736.27"/>
<line x1="281.40" y1="753.29" x2="283.17" y2="753.29"/>
<line x1="281.40" y1="770.30" x2="283.17" y2="770.30"/>
</g>
<g fill="#262626" stroke="#262626" stroke-width="0.06" text-anchor="end">
<text transform="translate(124.45 646.00) rotate(0.06)">FFT mean coefficient_15</text>
<text transform="translate(124.45 665.44) rotate(0.06)">MFCC_2</text>
<text transform="translate(124.45 684.88) rotate(0.06)">Centroid</text>
<text transform="translate(124.45 704.33) rotate(0.06)">FFT mean coefficient_19</text>
<text transform="translate(124.45 723.77) rotate(0.06)">MFCC_4</text>
<text transform="translate(124.45 743.21) rotate(0.06)">Human range energy</text>
<text transform="translate(124.45 762.65) rotate(0.06)">Spectral variation</text>
</g>
<g fill="#262626" stroke="#262626" stroke-width="0.06" text-anchor="end">
<text transform="translate(137.00 775.35) rotate(-89.94)">FFT mean coefficient_15</text>
<text transform="translate(156.63 775.35) rotate(-89.94)">MFCC_2</text>
<text transform="translate(176.26 775.35) rotate(-89.94)">Centroid</text>
<text transform="translate(195.89 775.35) rotate(-89.94)">FFT mean coefficient_19</text>
<text transform="translate(215.52 775.35) rotate(-89.94)">MFCC_4</text>
<text transform="translate(235.14 775.35) rotate(-89.94)">Human range energy</text>
<text transform="translate(254.77 775.35) rotate(-89.94)">Spectral variation</text>
</g>
<rect x="274.90" y="634.20" width="6.50" height="136.10" fill="url(#cb)"/>
<g fill="#262626" stroke="#262626" stroke-width="0.06" font-size="4.670">
<text transform="translate(285.65 636.30) rotate(0.06)">1.00</text>
<text transform="translate(285.65 653.32) rotate(0.06)">0.75</text>
<text transform="translate(285.65 670.33) rotate(0.06)">0.50</text>
<text transform="translate(285.65 687.34) rotate(0.06)">0.25</text>
<text transform="translate(285.65 704.35) rotate(0.06)">0.00</text>
<text transform="translate(285.65 721.37) rotate(0.06)">−0.25</text>
<text transform="translate(285.65 738.38) rotate(0.06)">−0.50</text>
<text transform="translate(285.65 755.39) rotate(0.06)">−0.75</text>
<text transform="translate(285.65 772.40) rotate(0.06)">−1.00</text>
</g>
</g>
<g class="p" font-size="5.140">
<g>
<rect x="372.70" y="634.00" width="20.70" height="20.67" fill="#3f7f93"/>
<rect x="392.20" y="634.00" width="20.70" height="20.67" fill="#dba496"/>
<rect x="411.70" y="634.00" width="20.70" height="20.67" fill="#b8ced5"/>
<rect x="431.20" y="634.00" width="20.70" height="20.67" fill="#9bbbc5"/>
<rect x="450.70" y="634.00" width="20.70" height="20.67" fill="#e2bbb1"/>
<rect x="470.20" y="634.00" width="20.70" height="20.67" fill="#93b6c1"/>
<rect x="489.70" y="634.00" width="19.50" height="20.67" fill="#e5c5bd"/>
<rect x="372.70" y="653.47" width="20.70" height="20.67" fill="#dba496"/>
<rect x="392.20" y="653.47" width="20.70" height="20.67" fill="#3f7f93"/>
<rect x="411.70" y="653.47" width="20.70" height="20.67" fill="#e3c0b7"/>
<rect x="431.20" y="653.47" width="20.70" height="20.67" fill="#d5907e"/>
<rect x="450.70" y="653.47" width="20.70" height="20.67" fill="#f1eceb"/>
<rect x="470.20" y="653.47" width="20.70" height="20.67" fill="#dca699"/>
<rect x="489.70" y="653.47" width="19.50" height="20.67" fill="#c3d5db"/>
<rect x="372.70" y="672.94" width="20.70" height="20.67" fill="#b8ced5"/>
<rect x="392.20" y="672.94" width="20.70" height="20.67" fill="#e3c0b7"/>
<rect x="411.70" y="672.94" width="20.70" height="20.67" fill="#3f7f93"/>
<rect x="431.20" y="672.94" width="20.70" height="20.67" fill="#c4d6db"/>
<rect x="450.70" y="672.94" width="20.70" height="20.67" fill="#e1b9af"/>
<rect x="470.20" y="672.94" width="20.70" height="20.67" fill="#b9cfd5"/>
<rect x="489.70" y="672.94" width="19.50" height="20.67" fill="#f1eceb"/>
<rect x="372.70" y="692.41" width="20.70" height="20.67" fill="#9bbbc5"/>
<rect x="392.20" y="692.41" width="20.70" height="20.67" fill="#d5907e"/>
<rect x="411.70" y="692.41" width="20.70" height="20.67" fill="#c4d6db"/>
<rect x="431.20" y="692.41" width="20.70" height="20.67" fill="#3f7f93"/>
<rect x="450.70" y="692.41" width="20.70" height="20.67" fill="#e7ccc6"/>
<rect x="470.20" y="692.41" width="20.70" height="20.67" fill="#87aeba"/>
<rect x="489.70" y="692.41" width="19.50" height="20.67" fill="#e2bab0"/>
<rect x="372.70" y="711.89" width="20.70" height="20.67" fill="#e2bbb1"/>
<rect x="392.20" y="711.89" width="20.70" height="20.67" fill="#f1eceb"/>
<rect x="411.70" y="711.89" width="20.70" height="20.67" fill="#e1b9af"/>
<rect x="431.20" y="711.89" width="20.70" height="20.67" fill="#e7ccc6"/>
<rect x="450.70" y="711.89" width="20.70" height="20.67" fill="#3f7f93"/>
<rect x="470.20" y="711.89" width="20.70" height="20.67" fill="#e7ccc6"/>
<rect x="489.70" y="711.89" width="19.50" height="20.67" fill="#eaeef0"/>
<rect x="372.70" y="731.36" width="20.70" height="20.67" fill="#93b6c1"/>
<rect x="392.20" y="731.36" width="20.70" height="20.67" fill="#dca699"/>
<rect x="411.70" y="731.36" width="20.70" height="20.67" fill="#b9cfd5"/>
<rect x="431.20" y="731.36" width="20.70" height="20.67" fill="#87aeba"/>
<rect x="450.70" y="731.36" width="20.70" height="20.67" fill="#e7ccc6"/>
<rect x="470.20" y="731.36" width="20.70" height="20.67" fill="#3f7f93"/>
<rect x="489.70" y="731.36" width="19.50" height="20.67" fill="#cd7660"/>
<rect x="372.70" y="750.83" width="20.70" height="19.47" fill="#e5c5bd"/>
<rect x="392.20" y="750.83" width="20.70" height="19.47" fill="#c3d5db"/>
<rect x="411.70" y="750.83" width="20.70" height="19.47" fill="#f1eceb"/>
<rect x="431.20" y="750.83" width="20.70" height="19.47" fill="#e2bab0"/>
<rect x="450.70" y="750.83" width="20.70" height="19.47" fill="#eaeef0"/>
<rect x="470.20" y="750.83" width="20.70" height="19.47" fill="#cd7660"/>
<rect x="489.70" y="750.83" width="19.50" height="19.47" fill="#3f7f93"/>
</g>
<g text-anchor="middle" font-size="4.600" stroke-width="0.06">
<text transform="translate(382.45 645.61) rotate(0.06)" fill="#ffffff" stroke="#ffffff">1</text>
<text transform="translate(401.95 645.61) rotate(0.06)" fill="#262626" stroke="#262626">-0.5</text>
<text transform="translate(421.45 645.61) rotate(0.06)" fill="#262626" stroke="#262626">0.31</text>
<text transform="translate(440.95 645.61) rotate(0.06)" fill="#262626" stroke="#262626">0.47</text>
<text transform="translate(460.45 645.61) rotate(0.06)" fill="#262626" stroke="#262626">-0.34</text>
<text transform="translate(479.95 645.61) rotate(0.06)" fill="#262626" stroke="#262626">0.51</text>
<text transform="translate(499.45 645.61) rotate(0.06)" fill="#262626" stroke="#262626">-0.29</text>
<text transform="translate(382.45 665.09) rotate(0.06)" fill="#262626" stroke="#262626">-0.5</text>
<text transform="translate(401.95 665.09) rotate(0.06)" fill="#ffffff" stroke="#ffffff">1</text>
<text transform="translate(421.45 665.09) rotate(0.06)" fill="#262626" stroke="#262626">-0.32</text>
<text transform="translate(440.95 665.09) rotate(0.06)" fill="#ffffff" stroke="#ffffff">-0.62</text>
<text transform="translate(460.45 665.09) rotate(0.06)" fill="#262626" stroke="#262626">-0.038</text>
<text transform="translate(479.95 665.09) rotate(0.06)" fill="#262626" stroke="#262626">-0.48</text>
<text transform="translate(499.45 665.09) rotate(0.06)" fill="#262626" stroke="#262626">0.25</text>
<text transform="translate(382.45 684.56) rotate(0.06)" fill="#262626" stroke="#262626">0.31</text>
<text transform="translate(401.95 684.56) rotate(0.06)" fill="#262626" stroke="#262626">-0.32</text>
<text transform="translate(421.45 684.56) rotate(0.06)" fill="#ffffff" stroke="#ffffff">1</text>
<text transform="translate(440.95 684.56) rotate(0.06)" fill="#262626" stroke="#262626">0.24</text>
<text transform="translate(460.45 684.56) rotate(0.06)" fill="#262626" stroke="#262626">-0.37</text>
<text transform="translate(479.95 684.56) rotate(0.06)" fill="#262626" stroke="#262626">0.3</text>
<text transform="translate(499.45 684.56) rotate(0.06)" fill="#262626" stroke="#262626">-0.033</text>
<text transform="translate(382.45 704.03) rotate(0.06)" fill="#262626" stroke="#262626">0.47</text>
<text transform="translate(401.95 704.03) rotate(0.06)" fill="#ffffff" stroke="#ffffff">-0.62</text>
<text transform="translate(421.45 704.03) rotate(0.06)" fill="#262626" stroke="#262626">0.24</text>
<text transform="translate(440.95 704.03) rotate(0.06)" fill="#ffffff" stroke="#ffffff">1</text>
<text transform="translate(460.45 704.03) rotate(0.06)" fill="#262626" stroke="#262626">-0.24</text>
<text transform="translate(479.95 704.03) rotate(0.06)" fill="#ffffff" stroke="#ffffff">0.58</text>
<text transform="translate(499.45 704.03) rotate(0.06)" fill="#262626" stroke="#262626">-0.36</text>
<text transform="translate(382.45 723.50) rotate(0.06)" fill="#262626" stroke="#262626">-0.34</text>
<text transform="translate(401.95 723.50) rotate(0.06)" fill="#262626" stroke="#262626">-0.038</text>
<text transform="translate(421.45 723.50) rotate(0.06)" fill="#262626" stroke="#262626">-0.37</text>
<text transform="translate(440.95 723.50) rotate(0.06)" fill="#262626" stroke="#262626">-0.24</text>
<text transform="translate(460.45 723.50) rotate(0.06)" fill="#ffffff" stroke="#ffffff">1</text>
<text transform="translate(479.95 723.50) rotate(0.06)" fill="#262626" stroke="#262626">-0.24</text>
<text transform="translate(499.45 723.50) rotate(0.06)" fill="#262626" stroke="#262626">0.034</text>
<text transform="translate(382.45 742.97) rotate(0.06)" fill="#262626" stroke="#262626">0.51</text>
<text transform="translate(401.95 742.97) rotate(0.06)" fill="#262626" stroke="#262626">-0.48</text>
<text transform="translate(421.45 742.97) rotate(0.06)" fill="#262626" stroke="#262626">0.3</text>
<text transform="translate(440.95 742.97) rotate(0.06)" fill="#ffffff" stroke="#ffffff">0.58</text>
<text transform="translate(460.45 742.97) rotate(0.06)" fill="#262626" stroke="#262626">-0.24</text>
<text transform="translate(479.95 742.97) rotate(0.06)" fill="#ffffff" stroke="#ffffff">1</text>
<text transform="translate(499.45 742.97) rotate(0.06)" fill="#ffffff" stroke="#ffffff">-0.78</text>
<text transform="translate(382.45 762.44) rotate(0.06)" fill="#262626" stroke="#262626">-0.29</text>
<text transform="translate(401.95 762.44) rotate(0.06)" fill="#262626" stroke="#262626">0.25</text>
<text transform="translate(421.45 762.44) rotate(0.06)" fill="#262626" stroke="#262626">-0.033</text>
<text transform="translate(440.95 762.44) rotate(0.06)" fill="#262626" stroke="#262626">-0.36</text>
<text transform="translate(460.45 762.44) rotate(0.06)" fill="#262626" stroke="#262626">0.034</text>
<text transform="translate(479.95 762.44) rotate(0.06)" fill="#ffffff" stroke="#ffffff">-0.78</text>
<text transform="translate(499.45 762.44) rotate(0.06)" fill="#ffffff" stroke="#ffffff">1</text>
</g>
<g stroke="#262626" stroke-width="0.406">
<line x1="370.93" y1="643.74" x2="372.70" y2="643.74"/>
<line x1="382.45" y1="770.30" x2="382.45" y2="772.07"/>
<line x1="370.93" y1="663.21" x2="372.70" y2="663.21"/>
<line x1="401.95" y1="770.30" x2="401.95" y2="772.07"/>
<line x1="370.93" y1="682.68" x2="372.70" y2="682.68"/>
<line x1="421.45" y1="770.30" x2="421.45" y2="772.07"/>
<line x1="370.93" y1="702.15" x2="372.70" y2="702.15"/>
<line x1="440.95" y1="770.30" x2="440.95" y2="772.07"/>
<line x1="370.93" y1="721.62" x2="372.70" y2="721.62"/>
<line x1="460.45" y1="770.30" x2="460.45" y2="772.07"/>
<line x1="370.93" y1="741.09" x2="372.70" y2="741.09"/>
<line x1="479.95" y1="770.30" x2="479.95" y2="772.07"/>
<line x1="370.93" y1="760.56" x2="372.70" y2="760.56"/>
<line x1="499.45" y1="770.30" x2="499.45" y2="772.07"/>
<line x1="525.40" y1="634.00" x2="527.17" y2="634.00"/>
<line x1="525.40" y1="651.04" x2="527.17" y2="651.04"/>
<line x1="525.40" y1="668.08" x2="527.17" y2="668.08"/>
<line x1="525.40" y1="685.11" x2="527.17" y2="685.11"/>
<line x1="525.40" y1="702.15" x2="527.17" y2="702.15"/>
<line x1="525.40" y1="719.19" x2="527.17" y2="719.19"/>
<line x1="525.40" y1="736.22" x2="527.17" y2="736.22"/>
<line x1="525.40" y1="753.26" x2="527.17" y2="753.26"/>
<line x1="525.40" y1="770.30" x2="527.17" y2="770.30"/>
</g>
<g fill="#262626" stroke="#262626" stroke-width="0.06" text-anchor="end">
<text transform="translate(368.75 645.81) rotate(0.06)">FFT mean coefficient_15</text>
<text transform="translate(368.75 665.28) rotate(0.06)">MFCC_2</text>
<text transform="translate(368.75 684.75) rotate(0.06)">Centroid</text>
<text transform="translate(368.75 704.23) rotate(0.06)">FFT mean coefficient_19</text>
<text transform="translate(368.75 723.70) rotate(0.06)">MFCC_4</text>
<text transform="translate(368.75 743.17) rotate(0.06)">Human range energy</text>
<text transform="translate(368.75 762.64) rotate(0.06)">Spectral variation</text>
</g>
<g fill="#262626" stroke="#262626" stroke-width="0.06" text-anchor="end">
<text transform="translate(381.24 775.35) rotate(-89.94)">FFT mean coefficient_15</text>
<text transform="translate(400.74 775.35) rotate(-89.94)">MFCC_2</text>
<text transform="translate(420.24 775.35) rotate(-89.94)">Centroid</text>
<text transform="translate(439.74 775.35) rotate(-89.94)">FFT mean coefficient_19</text>
<text transform="translate(459.24 775.35) rotate(-89.94)">MFCC_4</text>
<text transform="translate(478.74 775.35) rotate(-89.94)">Human range energy</text>
<text transform="translate(498.24 775.35) rotate(-89.94)">Spectral variation</text>
</g>
<rect x="519.00" y="634.00" width="6.40" height="136.30" fill="url(#cb)"/>
<g fill="#262626" stroke="#262626" stroke-width="0.06" font-size="4.670">
<text transform="translate(529.65 636.10) rotate(0.06)">1.00</text>
<text transform="translate(529.65 653.14) rotate(0.06)">0.75</text>
<text transform="translate(529.65 670.18) rotate(0.06)">0.50</text>
<text transform="translate(529.65 687.22) rotate(0.06)">0.25</text>
<text transform="translate(529.65 704.25) rotate(0.06)">0.00</text>
<text transform="translate(529.65 721.29) rotate(0.06)">−0.25</text>
<text transform="translate(529.65 738.33) rotate(0.06)">−0.50</text>
<text transform="translate(529.65 755.37) rotate(0.06)">−0.75</text>
<text transform="translate(529.65 772.40) rotate(0.06)">−1.00</text>
</g>
</g>
<g fill="#000000" text-anchor="middle">
<text font-size="20.2" transform="translate(23.40 114.10) rotate(-90) scale(1 1)">SelectKBest with</text>
<text font-size="20.3" transform="translate(47.80 114.60) rotate(-90) scale(1 1)">ANOVA F-Score</text>
<text font-size="20.05" transform="translate(21.60 300.30) rotate(-90) scale(1 1)">PowerSHAP</text>
<text font-size="20" transform="translate(47.80 305.60) rotate(-90) scale(1.045 1)">with L-R</text>
<text font-size="20.05" transform="translate(22.50 523.10) rotate(-90) scale(1 1)">PowerSHAP</text>
<text font-size="20.3" transform="translate(47.80 523.30) rotate(-90) scale(1 1)">with GB</text>
<text font-size="20.05" transform="translate(22.60 724.20) rotate(-90) scale(1 1)">PowerSHAP</text>
<text font-size="20.3" transform="translate(47.80 724.40) rotate(-90) scale(1 1)">with RF</text>
<text font-size="20" x="178.6" y="862.6">Rest</text>
<text font-size="20.2" x="447.4" y="867.4">Simkap</text>
</g>
</svg>
</body></html>
